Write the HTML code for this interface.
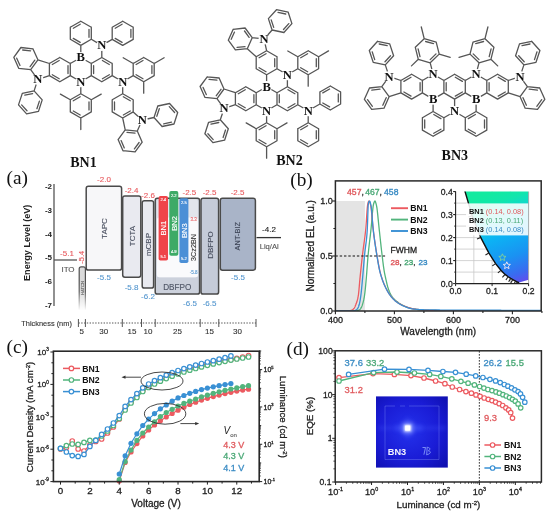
<!DOCTYPE html>
<html><head><meta charset="utf-8"><title>BN emitters</title><style>
*{margin:0;padding:0}
html,body{width:550px;height:517px;overflow:hidden;background:#fff}
svg{display:block}
.at{font-family:"Liberation Serif",serif;font-size:12.6px;font-weight:bold;fill:#111;text-anchor:middle}
.ml{font-family:"Liberation Serif",serif;font-size:14px;font-weight:bold;fill:#111}
.pl{font-family:"Liberation Serif",serif;font-size:17.5px;fill:#111}
.s{font-family:"Liberation Sans",sans-serif}
</style></head>
<body><svg width="550" height="517" viewBox="0 0 550 517">
<g stroke="#565656" stroke-width="1.3" stroke-linecap="round" fill="none">
<path d="M85.1 60.0L91.3 63.5M91.3 75.6L85.1 79.2M76.5 79.2L70.3 75.6M70.3 75.6L70.3 63.5M70.3 63.5L76.5 60.0M59.8 57.5L70.3 63.5M70.3 75.6L59.8 81.7M59.8 81.7L49.4 75.6M49.4 75.6L49.4 63.5M49.4 63.5L59.8 57.5M101.8 57.5L112.2 63.5M112.2 63.5L112.2 75.6M112.2 75.6L101.8 81.7M101.8 81.7L91.3 75.6M91.3 75.6L91.3 63.5M91.3 63.5L101.8 57.5M91.3 39.3L97.4 42.9M101.8 50.4L101.8 57.5M80.8 52.5L80.8 45.4M80.8 45.4L91.3 39.3M112.2 75.6L118.4 79.2M80.8 21.2L91.3 27.2M91.3 27.2L91.3 39.3M80.8 45.4L70.3 39.3M70.3 39.3L70.3 27.2M70.3 27.2L80.8 21.2M106.1 42.9L112.2 39.4M112.2 39.4L112.2 27.3M112.2 27.3L122.7 21.2M122.7 21.2L133.2 27.2M133.2 27.2L133.2 39.4M133.2 39.4L122.7 45.4M122.7 45.4L112.2 39.4M80.8 86.7L80.8 93.8M80.8 93.8L91.3 99.8M91.3 99.8L91.3 111.9M91.3 111.9L80.8 118.0M80.8 118.0L70.3 111.9M70.3 111.9L70.3 99.8M70.3 99.8L80.8 93.8M91.3 99.8L101.2 94.1M70.3 99.8L60.4 94.1M80.8 118.0L80.8 129.5M49.4 63.5L37.9 59.8M37.9 59.8L30.7 69.6M30.7 69.6L34.9 75.3M42.6 77.8L49.4 75.6M30.7 69.6L18.7 68.3M18.7 68.3L13.8 57.3M13.8 57.3L20.9 47.5M20.9 47.5L32.9 48.8M32.9 48.8L37.9 59.8M36.3 84.1L34.1 90.9M34.1 90.9L42.2 99.9M42.2 99.9L38.5 111.4M38.5 111.4L26.6 113.9M26.6 113.9L18.5 104.9M18.5 104.9L22.3 93.4M22.3 93.4L34.1 90.9M127.0 79.2L133.2 75.6M133.2 75.6L133.2 63.5M133.2 63.5L143.7 57.5M143.7 57.5L154.2 63.5M154.2 63.5L154.2 75.6M154.2 75.6L143.7 81.7M143.7 81.7L133.2 75.6M133.2 63.5L123.2 57.8M143.7 81.7L143.7 93.2M154.2 63.5L164.1 57.8M122.7 86.7L122.7 93.8M122.7 93.8L133.2 99.8M133.2 99.8L133.2 111.9M133.2 111.9L122.7 118.0M122.7 118.0L112.2 111.9M112.2 111.9L112.2 99.8M112.2 99.8L122.7 93.8M122.7 118.0L125.2 129.8M125.2 129.8L137.3 131.1M137.3 131.1L140.2 124.6M138.5 116.7L133.2 111.9M137.3 131.1L142.2 142.2M142.2 142.2L135.1 151.9M135.1 151.9L123.0 150.7M123.0 150.7L118.1 139.6M118.1 139.6L125.2 129.8M147.1 119.0L154.0 117.5M154.0 117.5L157.8 106.0M157.8 106.0L169.6 103.5M169.6 103.5L177.7 112.5M177.7 112.5L174.0 124.0M174.0 124.0L162.1 126.5M162.1 126.5L154.0 117.5"/>
<path d="M68.0 65.6L68.0 73.6M59.2 78.7L52.3 74.7M52.3 64.5L59.2 60.5M102.4 60.5L109.3 64.5M109.3 74.7L102.4 78.7M93.6 73.6L93.6 65.6M89.0 29.3L89.0 37.3M80.2 42.4L73.3 38.4M73.3 28.2L80.2 24.2M115.2 28.2L122.1 24.2M130.9 29.3L130.9 37.3M122.1 42.4L115.2 38.4M89.0 101.9L89.0 109.9M80.2 115.0L73.3 111.0M73.3 100.8L80.2 96.8M34.8 60.1L30.1 66.6M20.0 65.5L16.7 58.2M22.7 50.0L30.6 50.8M39.4 101.1L36.9 108.7M27.0 110.8L21.6 104.9M24.8 95.2L32.6 93.6M136.1 64.5L143.0 60.5M151.9 65.6L151.9 73.6M143.0 78.7L136.1 74.7M123.3 96.8L130.3 100.8M130.3 111.0L123.3 115.0M114.5 109.9L114.5 101.9M127.0 132.3L135.0 133.2M139.1 142.5L134.4 148.9M124.3 147.9L121.1 140.6M156.8 116.3L159.3 108.7M169.3 106.6L174.6 112.5M171.5 122.2L163.7 123.8"/>
</g>
<circle cx="80.8" cy="57.5" r="5.6" fill="#fff"/>
<text x="80.8" y="61.3" class="at">B</text>
<circle cx="80.8" cy="81.7" r="5.6" fill="#fff"/>
<text x="80.8" y="85.5" class="at">N</text>
<circle cx="101.8" cy="45.4" r="5.6" fill="#fff"/>
<text x="101.8" y="49.2" class="at">N</text>
<circle cx="122.7" cy="81.7" r="5.6" fill="#fff"/>
<text x="122.7" y="85.5" class="at">N</text>
<circle cx="37.9" cy="79.4" r="5.6" fill="#fff"/>
<text x="37.9" y="83.2" class="at">N</text>
<circle cx="142.2" cy="120.0" r="5.6" fill="#fff"/>
<text x="142.2" y="123.8" class="at">N</text>
<g stroke="#565656" stroke-width="1.3" stroke-linecap="round" fill="none">
<path d="M270.9 89.2L277.0 92.7M277.0 104.7L270.9 108.2M262.3 108.2L256.2 104.7M256.2 104.7L256.2 92.7M256.2 92.7L262.3 89.2M245.8 86.7L256.2 92.7M256.2 104.7L245.8 110.7M245.8 110.7L235.4 104.7M235.4 104.7L235.4 92.7M235.4 92.7L245.8 86.7M287.4 86.7L297.8 92.7M297.8 92.7L297.8 104.7M297.8 104.7L287.4 110.7M287.4 110.7L277.0 104.7M277.0 104.7L277.0 92.7M277.0 92.7L287.4 86.7M277.0 68.7L283.1 72.2M287.4 79.7L287.4 86.7M266.6 81.7L266.6 74.7M266.6 74.7L277.0 68.7M297.8 104.7L303.8 108.2M266.6 50.7L277.0 56.7M277.0 56.7L277.0 68.7M266.6 74.7L256.2 68.7M256.2 68.7L256.2 56.7M256.2 56.7L266.6 50.7M256.2 56.7L247.3 48.7M247.3 48.7L252.2 37.7M252.2 37.7L259.1 38.4M265.1 43.9L266.6 50.7M252.2 37.7L245.1 28.0M245.1 28.0L233.2 29.3M233.2 29.3L228.3 40.2M228.3 40.2L235.4 49.9M235.4 49.9L247.3 48.7M267.5 35.2L272.1 30.0M272.1 30.0L268.4 18.6M268.4 18.6L276.5 9.7M276.5 9.7L288.2 12.2M288.2 12.2L291.9 23.6M291.9 23.6L283.9 32.5M283.9 32.5L272.1 30.0M291.7 72.2L297.8 68.7M297.8 68.7L297.8 56.7M297.8 56.7L308.2 50.7M308.2 50.7L318.6 56.7M318.6 56.7L318.6 68.7M318.6 68.7L308.2 74.7M308.2 74.7L297.8 68.7M297.8 56.7L287.8 51.0M308.2 74.7L308.2 86.2M318.6 56.7L328.5 50.9M266.6 115.7L266.6 122.7M266.6 122.7L277.0 128.7M277.0 128.7L277.0 140.7M277.0 140.7L266.6 146.7M266.6 146.7L256.2 140.7M256.2 140.7L256.2 128.7M256.2 128.7L266.6 122.7M277.0 128.7L287.0 122.9M256.2 128.7L246.2 122.9M266.6 146.7L266.6 158.2M235.4 92.7L224.0 89.0M224.0 89.0L217.0 98.7M217.0 98.7L221.1 104.4M228.8 106.9L235.4 104.7M217.0 98.7L205.0 97.4M205.0 97.4L200.1 86.5M200.1 86.5L207.2 76.8M207.2 76.8L219.1 78.0M219.1 78.0L224.0 89.0M222.5 113.2L220.3 119.8M220.3 119.8L228.3 128.7M228.3 128.7L224.6 140.2M224.6 140.2L212.9 142.6M212.9 142.6L204.9 133.7M204.9 133.7L208.6 122.3M208.6 122.3L220.3 119.8M312.5 108.2L319.9 104.0M319.9 104.0L319.9 92.0M319.9 92.0L330.3 86.0M330.3 86.0L340.6 92.0M340.6 92.0L340.6 104.0M340.6 104.0L330.3 110.0M330.3 110.0L319.9 104.0M308.2 115.7L308.2 122.7M308.2 122.7L318.6 128.7M318.6 128.7L318.6 140.7M318.6 140.7L308.2 146.7M308.2 146.7L297.8 140.7M297.8 140.7L297.8 128.7M297.8 128.7L308.2 122.7"/>
<path d="M253.9 94.7L253.9 102.7M245.2 107.7L238.3 103.7M238.3 93.7L245.2 89.7M288.0 89.7L294.9 93.7M294.9 103.7L288.0 107.7M279.3 102.7L279.3 94.7M274.7 58.7L274.7 66.7M266.0 71.7L259.1 67.7M259.1 57.7L266.0 53.7M249.1 37.4L244.5 31.0M234.5 32.1L231.2 39.3M237.1 47.4L245.0 46.6M273.7 27.4L271.2 19.9M278.0 12.4L285.7 14.0M288.8 23.6L283.5 29.5M300.7 57.7L307.6 53.7M316.3 58.7L316.3 66.7M307.6 71.7L300.7 67.7M274.7 130.7L274.7 138.7M266.0 143.7L259.1 139.7M259.1 129.7L266.0 125.7M221.0 89.3L216.3 95.7M206.3 94.6L203.1 87.4M209.0 79.3L216.9 80.1M225.5 130.0L223.1 137.5M213.2 139.6L207.9 133.7M211.0 124.1L218.8 122.5M322.8 92.9L329.6 89.0M338.3 94.0L338.3 101.9M329.6 106.9L322.8 103.0M316.3 130.7L316.3 138.7M307.6 143.7L300.7 139.7M300.7 129.7L307.6 125.7"/>
</g>
<circle cx="266.6" cy="86.7" r="5.6" fill="#fff"/>
<text x="266.6" y="90.5" class="at">B</text>
<circle cx="266.6" cy="110.7" r="5.6" fill="#fff"/>
<text x="266.6" y="114.5" class="at">N</text>
<circle cx="287.4" cy="74.7" r="5.6" fill="#fff"/>
<text x="287.4" y="78.5" class="at">N</text>
<circle cx="308.2" cy="110.7" r="5.6" fill="#fff"/>
<text x="308.2" y="114.5" class="at">N</text>
<circle cx="224.0" cy="108.4" r="5.6" fill="#fff"/>
<text x="224.0" y="112.2" class="at">N</text>
<circle cx="264.1" cy="39.0" r="5.6" fill="#fff"/>
<text x="264.1" y="42.8" class="at">N</text>
<g stroke="#565656" stroke-width="1.3" stroke-linecap="round" fill="none">
<path d="M454.6 74.3L465.3 80.5M465.3 80.5L465.3 92.9M465.3 92.9L454.6 99.1M454.6 99.1L443.9 92.9M443.9 92.9L443.9 80.5M443.9 80.5L454.6 74.3M437.5 76.8L443.9 80.5M471.7 76.8L465.3 80.5M443.9 92.9L437.5 96.6M465.3 92.9L471.7 96.6M428.8 96.6L422.4 92.9M480.4 96.6L486.8 92.9M422.4 80.5L428.8 76.8M486.8 80.5L480.4 76.8M411.6 74.3L422.4 80.5M497.6 74.3L486.8 80.5M422.4 80.5L422.4 92.9M486.8 80.5L486.8 92.9M422.4 92.9L411.6 99.1M486.8 92.9L497.6 99.1M411.6 99.1L400.9 92.9M497.6 99.1L508.3 92.9M400.9 92.9L400.9 80.5M508.3 92.9L508.3 80.5M400.9 80.5L411.6 74.3M508.3 80.5L497.6 74.3M454.6 99.1L454.6 106.5M454.6 99.1L454.6 106.5M450.3 114.0L443.9 117.7M458.9 114.0L465.3 117.7M433.1 111.5L433.1 104.1M476.1 111.5L476.1 104.1M433.1 111.5L443.9 117.7M476.1 111.5L465.3 117.7M443.9 117.7L443.9 130.1M465.3 117.7L465.3 130.1M443.9 130.1L433.1 136.3M465.3 130.1L476.1 136.3M433.1 136.3L422.4 130.1M476.1 136.3L486.8 130.1M422.4 130.1L422.4 117.7M486.8 130.1L486.8 117.7M422.4 117.7L433.1 111.5M486.8 117.7L476.1 111.5M400.9 80.5L393.9 78.2M508.3 80.5L515.3 78.2M386.2 80.7L381.8 86.7M523.0 80.7L527.4 86.7M381.8 86.7L389.1 96.7M527.4 86.7L520.1 96.7M389.1 96.7L400.9 92.9M520.1 96.7L508.3 92.9M389.1 96.7L384.1 108.1M520.1 96.7L525.1 108.1M384.1 108.1L371.7 109.4M525.1 108.1L537.5 109.4M371.7 109.4L364.4 99.3M537.5 109.4L544.8 99.3M364.4 99.3L369.5 88.0M544.8 99.3L539.7 88.0M369.5 88.0L381.8 86.7M539.7 88.0L527.4 86.7M387.6 71.9L385.3 64.9M521.6 71.9L523.9 64.9M385.3 64.9L373.2 62.3M523.9 64.9L536.0 62.3M373.2 62.3L369.3 50.5M536.0 62.3L539.9 50.5M369.3 50.5L377.6 41.3M539.9 50.5L531.6 41.3M377.6 41.3L389.7 43.9M531.6 41.3L519.5 43.9M389.7 43.9L393.6 55.7M519.5 43.9L515.6 55.7M393.6 55.7L385.3 64.9M515.6 55.7L523.9 64.9M431.9 69.4L430.2 62.8M477.3 69.4L479.0 62.8M430.2 62.8L418.3 59.3M479.0 62.8L490.9 59.3M418.3 59.3L415.3 47.3M490.9 59.3L493.9 47.3M415.3 47.3L424.2 38.7M493.9 47.3L485.0 38.7M424.2 38.7L436.2 42.1M485.0 38.7L473.0 42.1M436.2 42.1L439.2 54.1M473.0 42.1L470.0 54.1M439.2 54.1L430.2 62.8M470.0 54.1L479.0 62.8M418.3 59.3L411.5 65.9M490.9 59.3L497.7 65.9M439.2 54.1L450.2 57.3M470.0 54.1L459.0 57.3M424.2 38.7L421.3 27.0M485.0 38.7L487.9 27.0"/>
<path d="M455.3 77.3L462.4 81.4M462.4 92.0L455.3 96.1M446.2 90.8L446.2 82.6M420.1 82.6L420.1 90.8M489.1 82.6L489.1 90.8M411.0 96.1L403.9 92.0M498.2 96.1L505.3 92.0M403.9 81.4L411.0 77.3M505.3 81.4L498.2 77.3M433.8 114.5L440.9 118.6M475.4 114.5L468.3 118.6M440.9 129.2L433.8 133.3M468.3 129.2L475.4 133.3M424.7 128.0L424.7 119.8M484.5 128.0L484.5 119.8M386.2 97.7L382.8 105.2M523.0 97.7L526.4 105.2M372.4 106.3L367.5 99.7M536.8 106.3L541.7 99.7M371.8 90.1L380.0 89.2M537.4 90.1L529.2 89.2M374.7 59.6L372.2 51.8M534.5 59.6L537.0 51.8M379.2 44.0L387.2 45.7M530.0 44.0L522.0 45.7M390.5 55.7L385.0 61.8M518.7 55.7L524.2 61.8M420.0 56.7L418.1 48.8M489.2 56.7L491.1 48.8M425.6 41.5L433.5 43.7M483.6 41.5L475.7 43.7M436.0 53.9L430.2 59.6M473.2 53.9L479.0 59.6"/>
</g>
<circle cx="433.1" cy="74.3" r="5.6" fill="#fff"/>
<text x="433.1" y="78.1" class="at">N</text>
<circle cx="476.1" cy="74.3" r="5.6" fill="#fff"/>
<text x="476.1" y="78.1" class="at">N</text>
<circle cx="433.1" cy="99.1" r="5.6" fill="#fff"/>
<text x="433.1" y="102.9" class="at">B</text>
<circle cx="476.1" cy="99.1" r="5.6" fill="#fff"/>
<text x="476.1" y="102.9" class="at">B</text>
<circle cx="389.1" cy="76.7" r="5.6" fill="#fff"/>
<text x="389.1" y="80.5" class="at">N</text>
<circle cx="520.1" cy="76.7" r="5.6" fill="#fff"/>
<text x="520.1" y="80.5" class="at">N</text>
<circle cx="454.6" cy="111.5" r="5.6" fill="#fff"/>
<text x="454.6" y="115.3" class="at">N</text>
<text class="ml" x="70.2" y="166.9">BN1</text>
<text class="ml" x="276.2" y="164.5">BN2</text>
<text class="ml" x="441.6" y="159.5">BN3</text>
<text x="6.50" y="184.20" font-size="19.3" fill="#111" text-anchor="start" font-family='"Liberation Serif","Times New Roman",serif'>(a)</text>
<line x1="54.00" y1="184.00" x2="54.00" y2="306.00" stroke="#555" stroke-width="1.3"/>
<text x="48.50" y="189.38" font-size="8" fill="#222" text-anchor="middle" font-family='"Liberation Sans",Arial,sans-serif' font-weight="bold">-2</text>
<text x="48.50" y="213.03" font-size="8" fill="#222" text-anchor="middle" font-family='"Liberation Sans",Arial,sans-serif' font-weight="bold">-3</text>
<text x="48.50" y="236.68" font-size="8" fill="#222" text-anchor="middle" font-family='"Liberation Sans",Arial,sans-serif' font-weight="bold">-4</text>
<text x="48.50" y="260.33" font-size="8" fill="#222" text-anchor="middle" font-family='"Liberation Sans",Arial,sans-serif' font-weight="bold">-5</text>
<text x="48.50" y="283.98" font-size="8" fill="#222" text-anchor="middle" font-family='"Liberation Sans",Arial,sans-serif' font-weight="bold">-6</text>
<text x="48.50" y="307.63" font-size="8" fill="#222" text-anchor="middle" font-family='"Liberation Sans",Arial,sans-serif' font-weight="bold">-7</text>
<text x="29.98" y="242.80" font-size="9.1" fill="#222" text-anchor="middle" font-family='"Liberation Sans",Arial,sans-serif' font-weight="bold" transform="rotate(-90 29.98 242.80)">Energy Level (eV)</text>
<line x1="54.00" y1="260.00" x2="77.00" y2="260.00" stroke="#555" stroke-width="1.3"/>
<text x="67.00" y="256.08" font-size="8" fill="#e85a5e" text-anchor="middle" font-family='"Liberation Sans",Arial,sans-serif' stroke="#e85a5e" stroke-width="0.12">-5.1</text>
<text x="68.00" y="271.68" font-size="8" fill="#555" text-anchor="middle" font-family='"Liberation Sans",Arial,sans-serif' stroke="#555" stroke-width="0.12">ITO</text>
<defs><linearGradient id="hfade" x1="0" y1="0" x2="0" y2="1"><stop offset="0" stop-color="#fff" stop-opacity="0"/><stop offset="0.35" stop-color="#fff" stop-opacity="0.1"/><stop offset="0.92" stop-color="#fff" stop-opacity="1"/><stop offset="1" stop-color="#fff" stop-opacity="1"/></linearGradient></defs>
<path d="M79.2 312V268.8Q79.2 266.8 81.2 266.8H83.4Q85.4 266.8 85.4 268.8V312" fill="#dadada" stroke="#505050" stroke-width="1.2"/>
<rect x="77.5" y="280" width="10" height="33" fill="url(#hfade)"/>
<text x="83.81" y="288.00" font-size="4.2" fill="#666" text-anchor="middle" font-family='"Liberation Sans",Arial,sans-serif' transform="rotate(-90 83.81 288.00)" stroke="#666" stroke-width="0.12">HATCN</text>
<text x="84.50" y="257.30" font-size="7.5" fill="#e85a5e" text-anchor="middle" font-family='"Liberation Sans",Arial,sans-serif' transform="rotate(-90 84.50 257.30)" stroke="#e85a5e" stroke-width="0.12">-5.4</text>
<rect x="86.20" y="186.30" width="35.40" height="83.82" rx="2.2" fill="#f7f7f9" stroke="#4a4a4a" stroke-width="1.5"/>
<text x="106.88" y="228.50" font-size="8" fill="#4a5060" text-anchor="middle" font-family='"Liberation Sans",Arial,sans-serif' transform="rotate(-90 106.88 228.50)" stroke="#4a5060" stroke-width="0.12">TAPC</text>
<text x="104.00" y="182.28" font-size="8" fill="#e85a5e" text-anchor="middle" font-family='"Liberation Sans",Arial,sans-serif' stroke="#e85a5e" stroke-width="0.12">-2.0</text>
<text x="104.00" y="279.88" font-size="8" fill="#5597cf" text-anchor="middle" font-family='"Liberation Sans",Arial,sans-serif' stroke="#5597cf" stroke-width="0.12">-5.5</text>
<rect x="122.70" y="195.88" width="18.10" height="81.43" rx="2.2" fill="#e9eaf0" stroke="#4a4a4a" stroke-width="1.5"/>
<text x="134.58" y="236.00" font-size="8" fill="#4a5060" text-anchor="middle" font-family='"Liberation Sans",Arial,sans-serif' transform="rotate(-90 134.58 236.00)" stroke="#4a5060" stroke-width="0.12">TCTA</text>
<text x="131.60" y="192.68" font-size="8" fill="#e85a5e" text-anchor="middle" font-family='"Liberation Sans",Arial,sans-serif' stroke="#e85a5e" stroke-width="0.12">-2.4</text>
<text x="131.60" y="289.88" font-size="8" fill="#5597cf" text-anchor="middle" font-family='"Liberation Sans",Arial,sans-serif' stroke="#5597cf" stroke-width="0.12">-5.8</text>
<rect x="142.20" y="200.67" width="11.40" height="87.42" rx="2.2" fill="#e9eaf0" stroke="#4a4a4a" stroke-width="1.5"/>
<text x="150.88" y="244.50" font-size="8" fill="#4a5060" text-anchor="middle" font-family='"Liberation Sans",Arial,sans-serif' transform="rotate(-90 150.88 244.50)" stroke="#4a5060" stroke-width="0.12">mCBP</text>
<text x="148.00" y="198.08" font-size="8" fill="#e85a5e" text-anchor="middle" font-family='"Liberation Sans",Arial,sans-serif' stroke="#e85a5e" stroke-width="0.12">-2.6</text>
<text x="148.00" y="298.88" font-size="8" fill="#5597cf" text-anchor="middle" font-family='"Liberation Sans",Arial,sans-serif' stroke="#5597cf" stroke-width="0.12">-6.2</text>
<rect x="155.20" y="198.28" width="44.40" height="95.80" rx="2.2" fill="#ccd1dc" stroke="#4a4a4a" stroke-width="1.5"/>
<rect x="156.9" y="199.28" width="41.1" height="78.03" rx="2.5" fill="#e2e5ec"/>
<rect x="156.9" y="217.44" width="41.1" height="59.88" rx="2.5" fill="#fafafc"/>
<text x="177.30" y="290.25" font-size="8.2" fill="#4f5666" text-anchor="middle" font-family='"Liberation Sans",Arial,sans-serif' stroke="#4f5666" stroke-width="0.12">DBFPO</text>
<rect x="158.60" y="195.88" width="9.40" height="64.67" rx="1.8" fill="#ef4449"/><text x="166.04" y="228.21" font-size="7.6" fill="#fff" text-anchor="middle" font-family='"Liberation Sans",Arial,sans-serif' transform="rotate(-90 166.04 228.21)" stroke="#fff" stroke-width="0.12">BN1</text><text x="163.30" y="201.39" font-size="4.2" fill="#fff" text-anchor="middle" font-family='"Liberation Sans",Arial,sans-serif' stroke="#fff" stroke-width="0.12">2.4</text><text x="163.30" y="258.06" font-size="4.2" fill="#fff" text-anchor="middle" font-family='"Liberation Sans",Arial,sans-serif' stroke="#fff" stroke-width="0.12">5.1</text>
<rect x="169.30" y="191.09" width="9.00" height="64.67" rx="1.8" fill="#3daa66"/><text x="176.54" y="223.42" font-size="7.6" fill="#fff" text-anchor="middle" font-family='"Liberation Sans",Arial,sans-serif' transform="rotate(-90 176.54 223.42)" stroke="#fff" stroke-width="0.12">BN2</text><text x="173.80" y="196.60" font-size="4.2" fill="#fff" text-anchor="middle" font-family='"Liberation Sans",Arial,sans-serif' stroke="#fff" stroke-width="0.12">2.2</text><text x="173.80" y="253.27" font-size="4.2" fill="#fff" text-anchor="middle" font-family='"Liberation Sans",Arial,sans-serif' stroke="#fff" stroke-width="0.12">4.9</text>
<rect x="179.40" y="198.28" width="9.00" height="64.66" rx="1.8" fill="#4b8fd6"/><text x="186.64" y="230.61" font-size="7.6" fill="#fff" text-anchor="middle" font-family='"Liberation Sans",Arial,sans-serif' transform="rotate(-90 186.64 230.61)" stroke="#fff" stroke-width="0.12">BN3</text><text x="183.90" y="203.79" font-size="4.2" fill="#fff" text-anchor="middle" font-family='"Liberation Sans",Arial,sans-serif' stroke="#fff" stroke-width="0.12">2.5</text><text x="183.90" y="260.45" font-size="4.2" fill="#fff" text-anchor="middle" font-family='"Liberation Sans",Arial,sans-serif' stroke="#fff" stroke-width="0.12">5.2</text>
<text x="193.60" y="221.42" font-size="4.5" fill="#e85a5e" text-anchor="middle" font-family='"Liberation Sans",Arial,sans-serif' stroke="#e85a5e" stroke-width="0.12">3.3</text>
<text x="193.60" y="273.62" font-size="4.5" fill="#5597cf" text-anchor="middle" font-family='"Liberation Sans",Arial,sans-serif' stroke="#5597cf" stroke-width="0.12">-5.8</text>
<text x="196.39" y="247.50" font-size="7.2" fill="#333" text-anchor="middle" font-family='"Liberation Sans",Arial,sans-serif' transform="rotate(-90 196.39 247.50)" stroke="#333" stroke-width="0.12">3Cz2BN</text>
<rect x="201.00" y="198.28" width="17.60" height="95.80" rx="2.2" fill="#c5cbd8" stroke="#4a4a4a" stroke-width="1.5"/>
<text x="212.88" y="245.00" font-size="8" fill="#4a5060" text-anchor="middle" font-family='"Liberation Sans",Arial,sans-serif' transform="rotate(-90 212.88 245.00)" stroke="#4a5060" stroke-width="0.12">DBFPO</text>
<rect x="220.30" y="198.28" width="35.10" height="71.85" rx="2.2" fill="#a9b4c8" stroke="#4a4a4a" stroke-width="1.5"/>
<text x="240.46" y="236.20" font-size="7.4" fill="#3e4658" text-anchor="middle" font-family='"Liberation Sans",Arial,sans-serif' transform="rotate(-90 240.46 236.20)" stroke="#3e4658" stroke-width="0.12">ANT-BIZ</text>
<text x="189.40" y="194.88" font-size="8" fill="#e85a5e" text-anchor="middle" font-family='"Liberation Sans",Arial,sans-serif' stroke="#e85a5e" stroke-width="0.12">-2.5</text>
<text x="209.60" y="194.88" font-size="8" fill="#e85a5e" text-anchor="middle" font-family='"Liberation Sans",Arial,sans-serif' stroke="#e85a5e" stroke-width="0.12">-2.5</text>
<text x="237.60" y="194.88" font-size="8" fill="#e85a5e" text-anchor="middle" font-family='"Liberation Sans",Arial,sans-serif' stroke="#e85a5e" stroke-width="0.12">-2.5</text>
<text x="190.00" y="306.48" font-size="8" fill="#5597cf" text-anchor="middle" font-family='"Liberation Sans",Arial,sans-serif' stroke="#5597cf" stroke-width="0.12">-6.5</text>
<text x="209.60" y="306.48" font-size="8" fill="#5597cf" text-anchor="middle" font-family='"Liberation Sans",Arial,sans-serif' stroke="#5597cf" stroke-width="0.12">-6.5</text>
<text x="238.00" y="280.28" font-size="8" fill="#5597cf" text-anchor="middle" font-family='"Liberation Sans",Arial,sans-serif' stroke="#5597cf" stroke-width="0.12">-5.5</text>
<line x1="256.50" y1="237.60" x2="281.00" y2="237.60" stroke="#333" stroke-width="1.3"/>
<text x="269.00" y="232.48" font-size="8" fill="#222" text-anchor="middle" font-family='"Liberation Sans",Arial,sans-serif' stroke="#222" stroke-width="0.12">-4.2</text>
<text x="269.20" y="248.94" font-size="7.6" fill="#555" text-anchor="middle" font-family='"Liberation Sans",Arial,sans-serif' stroke="#555" stroke-width="0.12">Liq/Al</text>
<text x="46.60" y="326.26" font-size="7.4" fill="#333" text-anchor="middle" font-family='"Liberation Sans",Arial,sans-serif' stroke="#333" stroke-width="0.12">Thickness (nm)</text>
<line x1="78.40" y1="323.00" x2="256.00" y2="323.00" stroke="#555" stroke-width="1" stroke-dasharray="1.4,1.4"/>
<line x1="78.40" y1="319.00" x2="78.40" y2="327.00" stroke="#555" stroke-width="1"/>
<line x1="85.40" y1="319.00" x2="85.40" y2="327.00" stroke="#555" stroke-width="1"/>
<line x1="122.30" y1="319.00" x2="122.30" y2="327.00" stroke="#555" stroke-width="1"/>
<line x1="141.50" y1="319.00" x2="141.50" y2="327.00" stroke="#555" stroke-width="1"/>
<line x1="155.20" y1="319.00" x2="155.20" y2="327.00" stroke="#555" stroke-width="1"/>
<line x1="200.20" y1="319.00" x2="200.20" y2="327.00" stroke="#555" stroke-width="1"/>
<line x1="218.80" y1="319.00" x2="218.80" y2="327.00" stroke="#555" stroke-width="1"/>
<line x1="256.00" y1="319.00" x2="256.00" y2="327.00" stroke="#555" stroke-width="1"/>
<text x="81.80" y="333.78" font-size="8" fill="#333" text-anchor="middle" font-family='"Liberation Sans",Arial,sans-serif' stroke="#333" stroke-width="0.12">5</text>
<text x="103.70" y="333.78" font-size="8" fill="#333" text-anchor="middle" font-family='"Liberation Sans",Arial,sans-serif' stroke="#333" stroke-width="0.12">30</text>
<text x="132.00" y="333.78" font-size="8" fill="#333" text-anchor="middle" font-family='"Liberation Sans",Arial,sans-serif' stroke="#333" stroke-width="0.12">15</text>
<text x="148.00" y="333.78" font-size="8" fill="#333" text-anchor="middle" font-family='"Liberation Sans",Arial,sans-serif' stroke="#333" stroke-width="0.12">10</text>
<text x="177.50" y="333.78" font-size="8" fill="#333" text-anchor="middle" font-family='"Liberation Sans",Arial,sans-serif' stroke="#333" stroke-width="0.12">25</text>
<text x="209.50" y="333.78" font-size="8" fill="#333" text-anchor="middle" font-family='"Liberation Sans",Arial,sans-serif' stroke="#333" stroke-width="0.12">15</text>
<text x="237.50" y="333.78" font-size="8" fill="#333" text-anchor="middle" font-family='"Liberation Sans",Arial,sans-serif' stroke="#333" stroke-width="0.12">30</text><text x="290.30" y="186.00" font-size="19.3" fill="#111" text-anchor="start" font-family='"Liberation Serif","Times New Roman",serif'>(b)</text>
<rect x="335.40" y="201.00" width="29.50" height="110.00" fill="#e4e4e4"/>
<clipPath id="cpb"><rect x="335.4" y="180" width="206" height="131"/></clipPath>
<g clip-path="url(#cpb)">
<polyline points="335.40,310.97 335.69,310.98 335.99,310.98 336.28,310.98 336.58,310.98 336.88,310.98 337.17,310.98 337.46,310.98 337.76,310.98 338.05,310.98 338.35,310.98 338.64,310.98 338.94,310.98 339.23,310.98 339.53,310.98 339.82,310.98 340.12,310.98 340.41,310.98 340.71,310.98 341.00,310.98 341.30,310.98 341.59,310.98 341.89,310.98 342.19,310.98 342.48,310.98 342.77,310.98 343.07,310.98 343.36,310.98 343.66,310.98 343.95,310.97 344.25,310.97 344.54,310.97 344.84,310.97 345.13,310.97 345.43,310.97 345.72,310.97 346.02,310.97 346.31,310.97 346.61,310.97 346.90,310.97 347.20,310.97 347.50,310.97 347.79,310.96 348.08,310.96 348.38,310.96 348.67,310.96 348.97,310.96 349.26,310.96 349.56,310.96 349.85,310.95 350.15,310.95 350.44,310.95 350.74,310.95 351.03,310.94 351.33,310.94 351.62,310.94 351.92,310.94 352.21,310.93 352.51,310.93 352.80,310.93 353.10,310.92 353.39,310.92 353.69,310.91 353.98,310.91 354.28,310.90 354.57,310.90 354.87,310.89 355.16,310.88 355.46,310.87 355.75,310.86 356.05,310.84 356.34,310.81 356.64,310.78 356.94,310.74 357.23,310.69 357.52,310.63 357.82,310.55 358.11,310.46 358.41,310.35 358.70,310.21 359.00,310.06 359.29,309.88 359.59,309.68 359.88,309.45 360.18,309.17 360.47,308.83 360.77,308.43 361.06,307.96 361.36,307.41 361.65,306.78 361.95,306.06 362.25,305.25 362.54,304.37 362.83,303.41 363.13,302.36 363.42,301.20 363.72,299.91 364.01,298.47 364.31,296.82 364.60,294.91 364.90,292.66 365.19,290.05 365.49,287.12 365.78,283.95 366.08,280.64 366.38,277.29 366.67,273.66 366.96,269.80 367.26,265.81 367.55,261.85 367.85,258.11 368.14,254.83 368.44,251.85 368.73,249.02 369.03,246.33 369.32,243.75 369.62,241.25 369.91,238.79 370.21,236.32 370.50,233.80 370.80,231.15 371.09,228.29 371.39,225.12 371.68,221.74 371.98,218.25 372.27,214.79 372.57,211.52 372.86,208.59 373.16,206.20 373.45,204.53 373.75,203.47 374.04,202.51 374.34,201.73 374.63,201.20 374.93,201.00 375.22,201.30 375.52,201.95 375.81,202.86 376.11,203.96 376.40,205.16 376.70,206.56 377.00,208.46 377.29,210.76 377.58,213.37 377.88,216.19 378.17,219.13 378.47,222.10 378.76,225.04 379.06,227.88 379.35,230.57 379.65,233.24 379.94,235.96 380.24,238.71 380.53,241.45 380.83,244.16 381.12,246.84 381.42,249.46 381.71,252.01 382.01,254.49 382.30,256.90 382.60,259.34 382.89,261.77 383.19,264.13 383.48,266.37 383.78,268.46 384.07,270.36 384.37,272.07 384.66,273.62 384.96,275.06 385.25,276.42 385.55,277.74 385.84,279.06 386.14,280.38 386.43,281.70 386.73,282.99 387.02,284.22 387.32,285.39 387.61,286.47 387.91,287.46 388.20,288.37 388.50,289.24 388.79,290.07 389.09,290.85 389.38,291.59 389.68,292.29 389.97,292.95 390.27,293.58 390.56,294.16 390.86,294.71 391.15,295.23 391.45,295.71 391.75,296.16 392.04,296.59 392.33,296.99 392.63,297.38 392.92,297.74 393.22,298.09 393.51,298.42 393.81,298.73 394.10,299.04 394.40,299.33 394.69,299.61 394.99,299.89 395.28,300.15 395.58,300.41 395.88,300.66 396.17,300.91 396.46,301.15 396.76,301.39 397.05,301.62 397.35,301.85 397.64,302.08 397.94,302.31 398.23,302.53 398.53,302.75 398.82,302.96 399.12,303.17 399.41,303.37 399.71,303.56 400.00,303.75 400.30,303.94 400.59,304.12 400.89,304.30 401.18,304.47 401.48,304.64 401.77,304.80 402.07,304.96 402.37,305.12 402.66,305.27 402.95,305.42 403.25,305.57 403.54,305.71 403.84,305.85 404.13,305.99 404.43,306.12 404.72,306.25 405.02,306.38 405.31,306.51 405.61,306.63 405.90,306.75 406.20,306.87 406.50,306.98 406.79,307.10 407.08,307.21 407.38,307.32 407.67,307.42 407.97,307.53 408.26,307.63 408.56,307.72 408.85,307.82 409.15,307.91 409.44,308.00 409.74,308.09 410.03,308.17 410.33,308.25 410.62,308.33 410.92,308.40 411.21,308.47 411.51,308.54 411.80,308.61 412.10,308.68 412.39,308.74 412.69,308.80 412.98,308.86 413.28,308.91 413.57,308.96 413.87,309.02 414.16,309.07 414.46,309.12 414.75,309.16 415.05,309.21 415.34,309.26 415.64,309.30 415.93,309.35 416.23,309.39 416.52,309.43 416.82,309.47 417.11,309.51 417.41,309.55 417.70,309.59 418.00,309.63 418.29,309.66 418.59,309.70 418.88,309.73 419.18,309.76 419.47,309.79 419.77,309.82 420.06,309.85 420.36,309.88 420.65,309.91 420.95,309.94 421.25,309.96 421.54,309.99 421.83,310.01 422.13,310.03 422.42,310.05 422.72,310.08 423.01,310.10 423.31,310.12 423.60,310.13 423.90,310.15 424.19,310.17 424.49,310.19 424.78,310.20 425.08,310.22 425.38,310.23 425.67,310.25 425.96,310.26 426.26,310.27 426.55,310.29 426.85,310.30 427.14,310.31 427.44,310.32 427.73,310.33 428.03,310.34 428.32,310.35 428.62,310.36 428.91,310.37 429.21,310.38 429.50,310.38 429.80,310.39 430.98,310.42 432.16,310.45 433.34,310.48 434.52,310.50 435.70,310.52 436.88,310.54 438.06,310.56 439.24,310.58 440.42,310.60 441.60,310.61 442.78,310.63 443.96,310.64 445.14,310.65 446.32,310.67 447.50,310.68 448.68,310.69 449.86,310.70 451.04,310.71 452.22,310.71 453.40,310.72 454.58,310.73 455.76,310.74 456.94,310.75 458.12,310.75 459.30,310.76 460.48,310.77 461.66,310.77 462.84,310.78 464.02,310.78 465.20,310.79 466.38,310.79 467.56,310.80 468.74,310.80 469.92,310.81 471.10,310.81 472.28,310.82 473.46,310.82 474.64,310.83 475.82,310.83 477.00,310.84 478.18,310.84 479.36,310.84 480.54,310.85 481.72,310.85 482.90,310.85 484.08,310.86 485.26,310.86 486.44,310.86 487.62,310.87 488.80,310.87 489.98,310.87 491.16,310.88 492.34,310.88 493.52,310.88 494.70,310.89 495.88,310.89 497.06,310.89 498.24,310.89 499.42,310.89 500.60,310.90 501.78,310.90 502.96,310.90 504.14,310.90 505.32,310.91 506.50,310.91 507.68,310.91 508.86,310.91 510.04,310.91 511.22,310.91 512.40,310.92 513.58,310.92 514.76,310.92 515.94,310.92 517.12,310.92 518.30,310.92 519.48,310.92 520.66,310.93 521.84,310.93 523.02,310.93 524.20,310.93 525.38,310.93 526.56,310.93 527.74,310.93 528.92,310.93 530.10,310.93 531.28,310.93 532.46,310.94 533.64,310.94 534.82,310.94 536.00,310.94 537.18,310.94 538.36,310.94 539.54,310.94 540.72,310.94 541.90,310.94" fill="none" stroke="#52b47c" stroke-width="1.3" stroke-linejoin="round"/>
<polyline points="335.40,310.98 335.69,310.98 335.99,310.98 336.28,310.98 336.58,310.98 336.88,310.97 337.17,310.97 337.46,310.97 337.76,310.97 338.05,310.97 338.35,310.97 338.64,310.97 338.94,310.97 339.23,310.97 339.53,310.97 339.82,310.96 340.12,310.96 340.41,310.96 340.71,310.96 341.00,310.96 341.30,310.95 341.59,310.95 341.89,310.95 342.19,310.95 342.48,310.94 342.77,310.94 343.07,310.94 343.36,310.93 343.66,310.93 343.95,310.92 344.25,310.92 344.54,310.91 344.84,310.91 345.13,310.90 345.43,310.89 345.72,310.88 346.02,310.88 346.31,310.87 346.61,310.86 346.90,310.85 347.20,310.84 347.50,310.82 347.79,310.81 348.08,310.80 348.38,310.78 348.67,310.76 348.97,310.74 349.26,310.71 349.56,310.68 349.85,310.64 350.15,310.59 350.44,310.54 350.74,310.47 351.03,310.39 351.33,310.30 351.62,310.19 351.92,310.06 352.21,309.92 352.51,309.75 352.80,309.56 353.10,309.35 353.39,309.10 353.69,308.80 353.98,308.44 354.28,308.02 354.57,307.53 354.87,306.96 355.16,306.33 355.46,305.63 355.75,304.88 356.05,304.11 356.34,303.30 356.64,302.46 356.94,301.56 357.23,300.58 357.52,299.49 357.82,298.23 358.11,296.75 358.41,294.93 358.70,292.52 359.00,289.54 359.29,286.12 359.59,282.55 359.88,279.32 360.18,276.44 360.47,273.55 360.77,270.67 361.06,267.82 361.36,265.02 361.65,262.27 361.95,259.59 362.25,256.98 362.54,254.45 362.83,252.04 363.13,249.75 363.42,247.56 363.72,245.44 364.01,243.34 364.31,241.25 364.60,239.09 364.90,236.84 365.19,234.42 365.49,231.77 365.78,228.78 366.08,225.10 366.38,220.87 366.67,216.39 366.96,212.02 367.26,208.17 367.55,205.32 367.85,203.83 368.14,202.73 368.44,201.83 368.73,201.22 369.03,201.00 369.32,201.20 369.62,201.74 369.91,202.55 370.21,203.56 370.50,204.69 370.80,205.94 371.09,207.86 371.39,210.40 371.68,213.37 371.98,216.60 372.27,219.92 372.57,223.18 372.86,226.26 373.16,229.03 373.45,231.48 373.75,233.81 374.04,236.05 374.34,238.22 374.63,240.32 374.93,242.36 375.22,244.35 375.52,246.29 375.81,248.18 376.11,250.05 376.40,251.87 376.70,253.67 377.00,255.45 377.29,257.22 377.58,258.99 377.88,260.75 378.17,262.47 378.47,264.13 378.76,265.73 379.06,267.26 379.35,268.71 379.65,270.06 379.94,271.31 380.24,272.49 380.53,273.60 380.83,274.65 381.12,275.66 381.42,276.62 381.71,277.55 382.01,278.45 382.30,279.32 382.60,280.16 382.89,280.97 383.19,281.75 383.48,282.51 383.78,283.24 384.07,283.95 384.37,284.63 384.66,285.30 384.96,285.95 385.25,286.59 385.55,287.21 385.84,287.83 386.14,288.42 386.43,289.00 386.73,289.57 387.02,290.13 387.32,290.67 387.61,291.19 387.91,291.71 388.20,292.20 388.50,292.69 388.79,293.16 389.09,293.62 389.38,294.06 389.68,294.49 389.97,294.91 390.27,295.32 390.56,295.71 390.86,296.09 391.15,296.46 391.45,296.82 391.75,297.17 392.04,297.51 392.33,297.84 392.63,298.16 392.92,298.47 393.22,298.78 393.51,299.07 393.81,299.36 394.10,299.64 394.40,299.91 394.69,300.18 394.99,300.44 395.28,300.70 395.58,300.94 395.88,301.18 396.17,301.42 396.46,301.65 396.76,301.88 397.05,302.10 397.35,302.31 397.64,302.52 397.94,302.72 398.23,302.92 398.53,303.11 398.82,303.30 399.12,303.48 399.41,303.66 399.71,303.84 400.00,304.01 400.30,304.17 400.59,304.33 400.89,304.49 401.18,304.65 401.48,304.80 401.77,304.94 402.07,305.09 402.37,305.23 402.66,305.37 402.95,305.50 403.25,305.64 403.54,305.77 403.84,305.89 404.13,306.02 404.43,306.14 404.72,306.26 405.02,306.38 405.31,306.50 405.61,306.61 405.90,306.72 406.20,306.84 406.50,306.94 406.79,307.05 407.08,307.16 407.38,307.26 407.67,307.36 407.97,307.46 408.26,307.55 408.56,307.65 408.85,307.74 409.15,307.83 409.44,307.91 409.74,308.00 410.03,308.08 410.33,308.16 410.62,308.23 410.92,308.31 411.21,308.38 411.51,308.45 411.80,308.51 412.10,308.58 412.39,308.64 412.69,308.70 412.98,308.75 413.28,308.81 413.57,308.86 413.87,308.91 414.16,308.96 414.46,309.01 414.75,309.05 415.05,309.10 415.34,309.14 415.64,309.18 415.93,309.23 416.23,309.27 416.52,309.31 416.82,309.34 417.11,309.38 417.41,309.42 417.70,309.45 418.00,309.49 418.29,309.52 418.59,309.55 418.88,309.59 419.18,309.62 419.47,309.65 419.77,309.68 420.06,309.71 420.36,309.73 420.65,309.76 420.95,309.79 421.25,309.81 421.54,309.84 421.83,309.86 422.13,309.88 422.42,309.91 422.72,309.93 423.01,309.95 423.31,309.97 423.60,309.99 423.90,310.01 424.19,310.03 424.49,310.05 424.78,310.07 425.08,310.08 425.38,310.10 425.67,310.12 425.96,310.13 426.26,310.15 426.55,310.16 426.85,310.18 427.14,310.19 427.44,310.20 427.73,310.22 428.03,310.23 428.32,310.24 428.62,310.25 428.91,310.27 429.21,310.28 429.50,310.29 429.80,310.30 430.98,310.34 432.16,310.38 433.34,310.42 434.52,310.45 435.70,310.49 436.88,310.51 438.06,310.54 439.24,310.57 440.42,310.59 441.60,310.61 442.78,310.63 443.96,310.65 445.14,310.67 446.32,310.68 447.50,310.70 448.68,310.71 449.86,310.72 451.04,310.73 452.22,310.74 453.40,310.75 454.58,310.76 455.76,310.77 456.94,310.78 458.12,310.78 459.30,310.79 460.48,310.80 461.66,310.80 462.84,310.81 464.02,310.81 465.20,310.82 466.38,310.82 467.56,310.83 468.74,310.83 469.92,310.84 471.10,310.84 472.28,310.85 473.46,310.85 474.64,310.85 475.82,310.86 477.00,310.86 478.18,310.87 479.36,310.87 480.54,310.87 481.72,310.88 482.90,310.88 484.08,310.88 485.26,310.88 486.44,310.89 487.62,310.89 488.80,310.89 489.98,310.90 491.16,310.90 492.34,310.90 493.52,310.90 494.70,310.90 495.88,310.91 497.06,310.91 498.24,310.91 499.42,310.91 500.60,310.91 501.78,310.92 502.96,310.92 504.14,310.92 505.32,310.92 506.50,310.92 507.68,310.92 508.86,310.93 510.04,310.93 511.22,310.93 512.40,310.93 513.58,310.93 514.76,310.93 515.94,310.93 517.12,310.93 518.30,310.93 519.48,310.94 520.66,310.94 521.84,310.94 523.02,310.94 524.20,310.94 525.38,310.94 526.56,310.94 527.74,310.94 528.92,310.94 530.10,310.94 531.28,310.94 532.46,310.94 533.64,310.94 534.82,310.94 536.00,310.94 537.18,310.94 538.36,310.94 539.54,310.94 540.72,310.94 541.90,310.94" fill="none" stroke="#ec5a60" stroke-width="1.3" stroke-linejoin="round"/>
<polyline points="335.40,310.98 335.69,310.98 335.99,310.98 336.28,310.98 336.58,310.98 336.88,310.98 337.17,310.98 337.46,310.98 337.76,310.98 338.05,310.98 338.35,310.98 338.64,310.98 338.94,310.98 339.23,310.97 339.53,310.97 339.82,310.97 340.12,310.97 340.41,310.97 340.71,310.97 341.00,310.97 341.30,310.97 341.59,310.97 341.89,310.97 342.19,310.97 342.48,310.97 342.77,310.97 343.07,310.97 343.36,310.97 343.66,310.96 343.95,310.96 344.25,310.96 344.54,310.96 344.84,310.96 345.13,310.96 345.43,310.96 345.72,310.96 346.02,310.95 346.31,310.95 346.61,310.95 346.90,310.95 347.20,310.95 347.50,310.94 347.79,310.94 348.08,310.94 348.38,310.94 348.67,310.93 348.97,310.93 349.26,310.93 349.56,310.92 349.85,310.92 350.15,310.92 350.44,310.91 350.74,310.91 351.03,310.90 351.33,310.90 351.62,310.89 351.92,310.89 352.21,310.88 352.51,310.87 352.80,310.85 353.10,310.83 353.39,310.80 353.69,310.77 353.98,310.73 354.28,310.67 354.57,310.61 354.87,310.52 355.16,310.43 355.46,310.31 355.75,310.16 356.05,310.00 356.34,309.81 356.64,309.59 356.94,309.33 357.23,309.01 357.52,308.63 357.82,308.18 358.11,307.63 358.41,306.98 358.70,306.22 359.00,305.33 359.29,304.30 359.59,303.09 359.88,301.68 360.18,300.05 360.47,298.20 360.77,296.14 361.06,293.85 361.36,291.23 361.65,288.32 361.95,285.17 362.25,281.91 362.54,278.68 362.83,275.39 363.13,271.95 363.42,268.43 363.72,264.87 364.01,261.36 364.31,257.99 364.60,254.85 364.90,252.03 365.19,249.49 365.49,247.16 365.78,244.93 366.08,242.67 366.38,240.23 366.67,237.44 366.96,234.12 367.26,230.04 367.55,223.30 367.85,214.04 368.14,205.99 368.44,203.26 368.73,202.22 369.03,201.48 369.32,201.07 369.62,201.04 369.91,201.47 370.21,202.27 370.50,203.35 370.80,204.61 371.09,206.02 371.39,208.29 371.68,211.34 371.98,214.87 372.27,218.61 372.57,222.33 372.86,225.83 373.16,228.94 373.45,231.59 373.75,234.07 374.04,236.44 374.34,238.69 374.63,240.86 374.93,242.94 375.22,244.96 375.52,246.93 375.81,248.84 376.11,250.71 376.40,252.56 376.70,254.37 377.00,256.17 377.29,257.96 377.58,259.73 377.88,261.48 378.17,263.17 378.47,264.81 378.76,266.37 379.06,267.86 379.35,269.26 379.65,270.57 379.94,271.79 380.24,272.94 380.53,274.03 380.83,275.06 381.12,276.05 381.42,277.00 381.71,277.91 382.01,278.80 382.30,279.66 382.60,280.49 382.89,281.29 383.19,282.06 383.48,282.80 383.78,283.52 384.07,284.22 384.37,284.90 384.66,285.56 384.96,286.21 385.25,286.84 385.55,287.46 385.84,288.07 386.14,288.66 386.43,289.23 386.73,289.79 387.02,290.34 387.32,290.87 387.61,291.39 387.91,291.90 388.20,292.39 388.50,292.87 388.79,293.33 389.09,293.78 389.38,294.22 389.68,294.65 389.97,295.07 390.27,295.47 390.56,295.87 390.86,296.25 391.15,296.62 391.45,296.98 391.75,297.33 392.04,297.67 392.33,298.01 392.63,298.33 392.92,298.65 393.22,298.95 393.51,299.25 393.81,299.55 394.10,299.83 394.40,300.11 394.69,300.38 394.99,300.64 395.28,300.90 395.58,301.15 395.88,301.39 396.17,301.63 396.46,301.86 396.76,302.09 397.05,302.31 397.35,302.53 397.64,302.73 397.94,302.94 398.23,303.13 398.53,303.33 398.82,303.51 399.12,303.69 399.41,303.87 399.71,304.04 400.00,304.21 400.30,304.38 400.59,304.54 400.89,304.70 401.18,304.85 401.48,305.00 401.77,305.15 402.07,305.29 402.37,305.43 402.66,305.57 402.95,305.71 403.25,305.84 403.54,305.97 403.84,306.10 404.13,306.23 404.43,306.36 404.72,306.48 405.02,306.60 405.31,306.73 405.61,306.85 405.90,306.98 406.20,307.10 406.50,307.22 406.79,307.34 407.08,307.45 407.38,307.56 407.67,307.67 407.97,307.78 408.26,307.88 408.56,307.98 408.85,308.07 409.15,308.16 409.44,308.25 409.74,308.33 410.03,308.41 410.33,308.48 410.62,308.55 410.92,308.61 411.21,308.67 411.51,308.73 411.80,308.78 412.10,308.83 412.39,308.87 412.69,308.91 412.98,308.95 413.28,308.98 413.57,309.02 413.87,309.05 414.16,309.08 414.46,309.12 414.75,309.15 415.05,309.18 415.34,309.21 415.64,309.24 415.93,309.26 416.23,309.29 416.52,309.32 416.82,309.34 417.11,309.37 417.41,309.39 417.70,309.42 418.00,309.44 418.29,309.46 418.59,309.48 418.88,309.51 419.18,309.53 419.47,309.55 419.77,309.56 420.06,309.58 420.36,309.60 420.65,309.62 420.95,309.64 421.25,309.65 421.54,309.67 421.83,309.68 422.13,309.70 422.42,309.71 422.72,309.73 423.01,309.74 423.31,309.75 423.60,309.76 423.90,309.78 424.19,309.79 424.49,309.80 424.78,309.81 425.08,309.82 425.38,309.83 425.67,309.84 425.96,309.85 426.26,309.85 426.55,309.86 426.85,309.87 427.14,309.87 427.44,309.88 427.73,309.89 428.03,309.89 428.32,309.90 428.62,309.90 428.91,309.91 429.21,309.91 429.50,309.91 429.80,309.92 430.98,309.93 432.16,309.95 433.34,309.96 434.52,309.98 435.70,309.99 436.88,310.00 438.06,310.01 439.24,310.02 440.42,310.03 441.60,310.04 442.78,310.04 443.96,310.05 445.14,310.06 446.32,310.07 447.50,310.07 448.68,310.08 449.86,310.08 451.04,310.09 452.22,310.09 453.40,310.10 454.58,310.11 455.76,310.11 456.94,310.12 458.12,310.12 459.30,310.13 460.48,310.13 461.66,310.14 462.84,310.14 464.02,310.15 465.20,310.15 466.38,310.16 467.56,310.16 468.74,310.16 469.92,310.17 471.10,310.17 472.28,310.18 473.46,310.18 474.64,310.19 475.82,310.19 477.00,310.20 478.18,310.20 479.36,310.21 480.54,310.21 481.72,310.21 482.90,310.22 484.08,310.22 485.26,310.23 486.44,310.23 487.62,310.23 488.80,310.24 489.98,310.24 491.16,310.25 492.34,310.25 493.52,310.25 494.70,310.26 495.88,310.26 497.06,310.26 498.24,310.27 499.42,310.27 500.60,310.27 501.78,310.28 502.96,310.28 504.14,310.28 505.32,310.29 506.50,310.29 507.68,310.29 508.86,310.29 510.04,310.30 511.22,310.30 512.40,310.30 513.58,310.30 514.76,310.31 515.94,310.31 517.12,310.31 518.30,310.31 519.48,310.32 520.66,310.32 521.84,310.32 523.02,310.32 524.20,310.32 525.38,310.32 526.56,310.33 527.74,310.33 528.92,310.33 530.10,310.33 531.28,310.33 532.46,310.33 533.64,310.33 534.82,310.34 536.00,310.34 537.18,310.34 538.36,310.34 539.54,310.34 540.72,310.34 541.90,310.34" fill="none" stroke="#3990d4" stroke-width="1.3" stroke-linejoin="round"/>
</g>
<line x1="335.40" y1="256.00" x2="386.00" y2="256.00" stroke="#111" stroke-width="1.2" stroke-dasharray="2.4,1.9"/>
<rect x="335.4" y="180.9" width="205.8" height="130.1" fill="none" stroke="#2a2a2a" stroke-width="1.5"/>
<line x1="332.20" y1="311.00" x2="335.40" y2="311.00" stroke="#222" stroke-width="1.1"/>
<text x="326.50" y="314.24" font-size="9" fill="#222" text-anchor="middle" font-family='"Liberation Sans",Arial,sans-serif' stroke="#222" stroke-width="0.30">0.0</text>
<line x1="332.20" y1="256.00" x2="335.40" y2="256.00" stroke="#222" stroke-width="1.1"/>
<text x="326.50" y="259.24" font-size="9" fill="#222" text-anchor="middle" font-family='"Liberation Sans",Arial,sans-serif' stroke="#222" stroke-width="0.30">0.5</text>
<line x1="332.20" y1="201.00" x2="335.40" y2="201.00" stroke="#222" stroke-width="1.1"/>
<text x="326.50" y="204.24" font-size="9" fill="#222" text-anchor="middle" font-family='"Liberation Sans",Arial,sans-serif' stroke="#222" stroke-width="0.30">1.0</text>
<line x1="333.40" y1="283.50" x2="335.40" y2="283.50" stroke="#222" stroke-width="1"/>
<line x1="333.40" y1="228.50" x2="335.40" y2="228.50" stroke="#222" stroke-width="1"/>
<line x1="335.40" y1="311.00" x2="335.40" y2="314.20" stroke="#222" stroke-width="1.1"/>
<text x="335.40" y="323.04" font-size="9" fill="#222" text-anchor="middle" font-family='"Liberation Sans",Arial,sans-serif' stroke="#222" stroke-width="0.30">400</text>
<line x1="364.90" y1="311.00" x2="364.90" y2="313.00" stroke="#222" stroke-width="1.1"/>
<line x1="394.40" y1="311.00" x2="394.40" y2="314.20" stroke="#222" stroke-width="1.1"/>
<text x="394.40" y="323.04" font-size="9" fill="#222" text-anchor="middle" font-family='"Liberation Sans",Arial,sans-serif' stroke="#222" stroke-width="0.30">500</text>
<line x1="423.90" y1="311.00" x2="423.90" y2="313.00" stroke="#222" stroke-width="1.1"/>
<line x1="453.40" y1="311.00" x2="453.40" y2="314.20" stroke="#222" stroke-width="1.1"/>
<text x="453.40" y="323.04" font-size="9" fill="#222" text-anchor="middle" font-family='"Liberation Sans",Arial,sans-serif' stroke="#222" stroke-width="0.30">600</text>
<line x1="482.90" y1="311.00" x2="482.90" y2="313.00" stroke="#222" stroke-width="1.1"/>
<line x1="512.40" y1="311.00" x2="512.40" y2="314.20" stroke="#222" stroke-width="1.1"/>
<text x="512.40" y="323.04" font-size="9" fill="#222" text-anchor="middle" font-family='"Liberation Sans",Arial,sans-serif' stroke="#222" stroke-width="0.30">700</text>
<line x1="541.90" y1="311.00" x2="541.90" y2="313.00" stroke="#222" stroke-width="1.1"/>
<text x="438.20" y="334.80" font-size="10" fill="#222" text-anchor="middle" font-family='"Liberation Sans",Arial,sans-serif' stroke="#222" stroke-width="0.30">Wavelength (nm)</text>
<text x="314.40" y="245.80" font-size="10" fill="#222" text-anchor="middle" font-family='"Liberation Sans",Arial,sans-serif' transform="rotate(-90 314.40 245.80)" stroke="#222" stroke-width="0.30">Normalized EL (a.u.)</text>
<text x="347.10" y="194.9" font-size="8.6" font-family='"Liberation Sans",Arial,sans-serif' stroke-width="0.35"><tspan fill="#e05a5e" stroke="#e05a5e">457</tspan><tspan fill="#444" stroke="#444">,</tspan></text>
<text x="365.20" y="194.9" font-size="8.6" font-family='"Liberation Sans",Arial,sans-serif' stroke-width="0.35"><tspan fill="#4aa876" stroke="#4aa876">467</tspan><tspan fill="#444" stroke="#444">,</tspan></text>
<text x="384.10" y="194.9" font-size="8.6" font-family='"Liberation Sans",Arial,sans-serif' stroke-width="0.35"><tspan fill="#3b8cc4" stroke="#3b8cc4">458</tspan><tspan fill="#444" stroke="#444"></tspan></text>
<line x1="391.00" y1="208.20" x2="408.00" y2="208.20" stroke="#ec5a60" stroke-width="1.9"/>
<text x="410.20" y="211.40" font-size="8.7" fill="#111" text-anchor="start" font-family='"Liberation Sans",Arial,sans-serif' font-weight="bold">BN1</text>
<line x1="391.00" y1="219.60" x2="408.00" y2="219.60" stroke="#52b47c" stroke-width="1.9"/>
<text x="410.20" y="222.80" font-size="8.7" fill="#111" text-anchor="start" font-family='"Liberation Sans",Arial,sans-serif' font-weight="bold">BN2</text>
<line x1="391.00" y1="231.00" x2="408.00" y2="231.00" stroke="#3990d4" stroke-width="1.9"/>
<text x="410.20" y="234.20" font-size="8.7" fill="#111" text-anchor="start" font-family='"Liberation Sans",Arial,sans-serif' font-weight="bold">BN3</text>
<text x="390.60" y="253.30" font-size="8.5" fill="#222" text-anchor="start" font-family='"Liberation Sans",Arial,sans-serif' stroke="#222" stroke-width="0.28">FWHM</text>
<text x="390.40" y="264.7" font-size="8.1" font-family='"Liberation Sans",Arial,sans-serif' stroke-width="0.35"><tspan fill="#e05a5e" stroke="#e05a5e">28</tspan><tspan fill="#444" stroke="#444">,</tspan></text>
<text x="404.30" y="264.7" font-size="8.1" font-family='"Liberation Sans",Arial,sans-serif' stroke-width="0.35"><tspan fill="#4aa876" stroke="#4aa876">23</tspan><tspan fill="#444" stroke="#444">,</tspan></text>
<text x="418.40" y="264.7" font-size="8.1" font-family='"Liberation Sans",Arial,sans-serif' stroke-width="0.35"><tspan fill="#3b8cc4" stroke="#3b8cc4">23</tspan><tspan fill="#444" stroke="#444"></tspan></text>
<line x1="455.60" y1="272.10" x2="528.60" y2="272.10" stroke="#c8c8c8" stroke-width="0.8"/>
<line x1="455.60" y1="260.60" x2="528.60" y2="260.60" stroke="#c8c8c8" stroke-width="0.8"/>
<line x1="455.60" y1="249.10" x2="528.60" y2="249.10" stroke="#c8c8c8" stroke-width="0.8"/>
<line x1="455.60" y1="237.60" x2="528.60" y2="237.60" stroke="#c8c8c8" stroke-width="0.8"/>
<line x1="455.60" y1="226.10" x2="528.60" y2="226.10" stroke="#c8c8c8" stroke-width="0.8"/>
<line x1="455.60" y1="214.60" x2="528.60" y2="214.60" stroke="#c8c8c8" stroke-width="0.8"/>
<line x1="455.60" y1="203.10" x2="528.60" y2="203.10" stroke="#c8c8c8" stroke-width="0.8"/>
<line x1="473.85" y1="191.60" x2="473.85" y2="283.60" stroke="#c8c8c8" stroke-width="0.8"/>
<line x1="492.10" y1="191.60" x2="492.10" y2="283.60" stroke="#c8c8c8" stroke-width="0.8"/>
<line x1="510.35" y1="191.60" x2="510.35" y2="283.60" stroke="#c8c8c8" stroke-width="0.8"/>
<defs><linearGradient id="cie" gradientUnits="userSpaceOnUse" x1="488" y1="194" x2="524" y2="286"><stop offset="0" stop-color="#12eaa0"/><stop offset="0.12" stop-color="#12e6ac"/><stop offset="0.3" stop-color="#10d0e0"/><stop offset="0.45" stop-color="#0cb2f4"/><stop offset="0.68" stop-color="#1a92f2"/><stop offset="0.86" stop-color="#3a6af0"/><stop offset="1" stop-color="#7040ee"/></linearGradient><clipPath id="cpi"><rect x="455.6" y="191.6" width="73" height="92"/></clipPath></defs>
<g clip-path="url(#cpi)">
<path d="M528.60 279.68 L519.15 282.45 L518.85 282.50 L518.16 282.43 L517.25 282.01 L515.61 281.09 L512.76 279.53 L510.72 278.38 L508.16 276.77 L505.06 274.42 L500.90 270.31 L495.60 263.64 L488.92 253.08 L480.68 237.44 L472.17 215.75 L464.18 188.68 L458.59 159.77 L528.60 145.60 Z" fill="url(#cie)"/>
<path d="M519.15 282.45 L518.85 282.50 L518.16 282.43 L517.25 282.01 L515.61 281.09 L512.76 279.53 L510.72 278.38 L508.16 276.77 L505.06 274.42 L500.90 270.31 L495.60 263.64 L488.92 253.08 L480.68 237.44 L472.17 215.75 L464.18 188.68 L458.59 159.77" fill="none" stroke="#111" stroke-width="1.4"/>
<line x1="517.25" y1="282.01" x2="515.40" y2="285.56" stroke="#222" stroke-width="1.1"/>
<line x1="515.61" y1="281.09" x2="513.67" y2="284.59" stroke="#222" stroke-width="1.1"/>
<line x1="512.76" y1="279.53" x2="510.82" y2="283.03" stroke="#222" stroke-width="1.1"/>
<line x1="510.72" y1="278.38" x2="508.66" y2="281.81" stroke="#222" stroke-width="1.1"/>
<line x1="508.16" y1="276.77" x2="505.87" y2="280.05" stroke="#222" stroke-width="1.1"/>
<line x1="505.06" y1="274.42" x2="502.40" y2="277.41" stroke="#222" stroke-width="1.1"/>
<line x1="500.90" y1="270.31" x2="497.89" y2="272.94" stroke="#222" stroke-width="1.1"/>
<line x1="495.60" y1="263.64" x2="492.32" y2="265.92" stroke="#222" stroke-width="1.1"/>
<line x1="488.92" y1="253.08" x2="485.45" y2="255.06" stroke="#222" stroke-width="1.1"/>
<line x1="480.68" y1="237.44" x2="477.03" y2="239.08" stroke="#222" stroke-width="1.1"/>
<line x1="472.17" y1="215.75" x2="468.38" y2="217.03" stroke="#222" stroke-width="1.1"/>
</g>
<rect x="466" y="203.4" width="62.6" height="32" fill="#ffffff" fill-opacity="0.88"/>
<text x="469" y="214.10" font-size="7.4" font-family='"Liberation Sans",Arial,sans-serif'><tspan font-weight="bold" fill="#111">BN1</tspan><tspan fill="#e05a5e"> (0.14, 0.08)</tspan></text>
<text x="469" y="223.10" font-size="7.4" font-family='"Liberation Sans",Arial,sans-serif'><tspan font-weight="bold" fill="#111">BN2</tspan><tspan fill="#4aa876"> (0.13, 0.11)</tspan></text>
<text x="469" y="232.10" font-size="7.4" font-family='"Liberation Sans",Arial,sans-serif'><tspan font-weight="bold" fill="#111">BN3</tspan><tspan fill="#3b8cc4"> (0.14, 0.08)</tspan></text>
<polygon points="502.40,253.80 503.41,256.22 506.01,256.43 504.03,258.13 504.63,260.67 502.40,259.31 500.17,260.67 500.77,258.13 498.79,256.43 501.39,256.22" fill="none" stroke="#7fd09a" stroke-width="0.9"/>
<polygon points="506.80,261.80 507.81,264.22 510.41,264.43 508.43,266.13 509.03,268.67 506.80,267.31 504.57,268.67 505.17,266.13 503.19,264.43 505.79,264.22" fill="none" stroke="#f4e8f0" stroke-width="0.9"/>
<line x1="528.60" y1="191.60" x2="528.60" y2="283.60" stroke="#999" stroke-width="0.8"/>
<line x1="455.60" y1="191.60" x2="455.60" y2="283.60" stroke="#222" stroke-width="1.1"/>
<line x1="455.60" y1="283.60" x2="528.60" y2="283.60" stroke="#222" stroke-width="1.1"/>
<line x1="453.10" y1="283.60" x2="455.60" y2="283.60" stroke="#222" stroke-width="1"/>
<text x="446.80" y="286.70" font-size="8.6" fill="#222" text-anchor="middle" font-family='"Liberation Sans",Arial,sans-serif' stroke="#222" stroke-width="0.29">0.0</text>
<line x1="453.10" y1="260.60" x2="455.60" y2="260.60" stroke="#222" stroke-width="1"/>
<text x="446.80" y="263.70" font-size="8.6" fill="#222" text-anchor="middle" font-family='"Liberation Sans",Arial,sans-serif' stroke="#222" stroke-width="0.29">0.1</text>
<line x1="453.10" y1="237.60" x2="455.60" y2="237.60" stroke="#222" stroke-width="1"/>
<text x="446.80" y="240.70" font-size="8.6" fill="#222" text-anchor="middle" font-family='"Liberation Sans",Arial,sans-serif' stroke="#222" stroke-width="0.29">0.2</text>
<line x1="453.10" y1="214.60" x2="455.60" y2="214.60" stroke="#222" stroke-width="1"/>
<text x="446.80" y="217.70" font-size="8.6" fill="#222" text-anchor="middle" font-family='"Liberation Sans",Arial,sans-serif' stroke="#222" stroke-width="0.29">0.3</text>
<line x1="453.10" y1="191.60" x2="455.60" y2="191.60" stroke="#222" stroke-width="1"/>
<text x="446.80" y="194.70" font-size="8.6" fill="#222" text-anchor="middle" font-family='"Liberation Sans",Arial,sans-serif' stroke="#222" stroke-width="0.29">0.4</text>
<line x1="454.10" y1="272.10" x2="455.60" y2="272.10" stroke="#222" stroke-width="0.8"/>
<line x1="454.10" y1="260.60" x2="455.60" y2="260.60" stroke="#222" stroke-width="0.8"/>
<line x1="454.10" y1="249.10" x2="455.60" y2="249.10" stroke="#222" stroke-width="0.8"/>
<line x1="454.10" y1="237.60" x2="455.60" y2="237.60" stroke="#222" stroke-width="0.8"/>
<line x1="454.10" y1="226.10" x2="455.60" y2="226.10" stroke="#222" stroke-width="0.8"/>
<line x1="454.10" y1="214.60" x2="455.60" y2="214.60" stroke="#222" stroke-width="0.8"/>
<line x1="454.10" y1="203.10" x2="455.60" y2="203.10" stroke="#222" stroke-width="0.8"/>
<line x1="454.10" y1="191.60" x2="455.60" y2="191.60" stroke="#222" stroke-width="0.8"/>
<line x1="455.60" y1="283.60" x2="455.60" y2="286.10" stroke="#222" stroke-width="1"/>
<text x="455.60" y="294.30" font-size="8.6" fill="#222" text-anchor="middle" font-family='"Liberation Sans",Arial,sans-serif' stroke="#222" stroke-width="0.29">0.0</text>
<line x1="492.10" y1="283.60" x2="492.10" y2="286.10" stroke="#222" stroke-width="1"/>
<text x="492.10" y="294.30" font-size="8.6" fill="#222" text-anchor="middle" font-family='"Liberation Sans",Arial,sans-serif' stroke="#222" stroke-width="0.29">0.1</text>
<line x1="528.60" y1="283.60" x2="528.60" y2="286.10" stroke="#222" stroke-width="1"/>
<text x="528.60" y="294.30" font-size="8.6" fill="#222" text-anchor="middle" font-family='"Liberation Sans",Arial,sans-serif' stroke="#222" stroke-width="0.29">0.2</text><text x="6.50" y="352.70" font-size="19.3" fill="#111" text-anchor="start" font-family='"Liberation Serif","Times New Roman",serif'>(c)</text>
<polyline points="119.26,481.00 125.14,462.50 131.01,452.00 136.89,443.60 142.76,436.00 148.64,430.00 154.52,425.00 160.39,420.80 166.27,417.00 172.14,413.50 178.02,410.20 183.90,407.20 189.77,404.50 195.65,402.20 201.52,400.10 207.40,398.30 213.28,396.60 219.15,395.10 225.03,393.60 230.90,392.30 236.78,391.10 242.66,390.10 248.53,389.20" fill="none" stroke="#ec5a60" stroke-width="1.2"/><circle cx="119.26" cy="481.00" r="2.6" fill="#ec5a60"/><circle cx="125.14" cy="462.50" r="2.6" fill="#ec5a60"/><circle cx="131.01" cy="452.00" r="2.6" fill="#ec5a60"/><circle cx="136.89" cy="443.60" r="2.6" fill="#ec5a60"/><circle cx="142.76" cy="436.00" r="2.6" fill="#ec5a60"/><circle cx="148.64" cy="430.00" r="2.6" fill="#ec5a60"/><circle cx="154.52" cy="425.00" r="2.6" fill="#ec5a60"/><circle cx="160.39" cy="420.80" r="2.6" fill="#ec5a60"/><circle cx="166.27" cy="417.00" r="2.6" fill="#ec5a60"/><circle cx="172.14" cy="413.50" r="2.6" fill="#ec5a60"/><circle cx="178.02" cy="410.20" r="2.6" fill="#ec5a60"/><circle cx="183.90" cy="407.20" r="2.6" fill="#ec5a60"/><circle cx="189.77" cy="404.50" r="2.6" fill="#ec5a60"/><circle cx="195.65" cy="402.20" r="2.6" fill="#ec5a60"/><circle cx="201.52" cy="400.10" r="2.6" fill="#ec5a60"/><circle cx="207.40" cy="398.30" r="2.6" fill="#ec5a60"/><circle cx="213.28" cy="396.60" r="2.6" fill="#ec5a60"/><circle cx="219.15" cy="395.10" r="2.6" fill="#ec5a60"/><circle cx="225.03" cy="393.60" r="2.6" fill="#ec5a60"/><circle cx="230.90" cy="392.30" r="2.6" fill="#ec5a60"/><circle cx="236.78" cy="391.10" r="2.6" fill="#ec5a60"/><circle cx="242.66" cy="390.10" r="2.6" fill="#ec5a60"/><circle cx="248.53" cy="389.20" r="2.6" fill="#ec5a60"/>
<polyline points="119.26,479.60 125.14,461.60 131.01,450.00 136.89,440.40 142.76,433.00 148.64,427.00 154.52,421.80 160.39,416.50 166.27,412.50 172.14,409.30 178.02,406.00 183.90,403.40 189.77,401.20 195.65,399.00 201.52,396.80 207.40,395.10 213.28,393.30 219.15,391.80 225.03,390.30 230.90,389.00 236.78,387.90 242.66,386.60 248.53,385.70" fill="none" stroke="#52b47c" stroke-width="1.2"/><circle cx="119.26" cy="479.60" r="2.6" fill="#52b47c"/><circle cx="125.14" cy="461.60" r="2.6" fill="#52b47c"/><circle cx="131.01" cy="450.00" r="2.6" fill="#52b47c"/><circle cx="136.89" cy="440.40" r="2.6" fill="#52b47c"/><circle cx="142.76" cy="433.00" r="2.6" fill="#52b47c"/><circle cx="148.64" cy="427.00" r="2.6" fill="#52b47c"/><circle cx="154.52" cy="421.80" r="2.6" fill="#52b47c"/><circle cx="160.39" cy="416.50" r="2.6" fill="#52b47c"/><circle cx="166.27" cy="412.50" r="2.6" fill="#52b47c"/><circle cx="172.14" cy="409.30" r="2.6" fill="#52b47c"/><circle cx="178.02" cy="406.00" r="2.6" fill="#52b47c"/><circle cx="183.90" cy="403.40" r="2.6" fill="#52b47c"/><circle cx="189.77" cy="401.20" r="2.6" fill="#52b47c"/><circle cx="195.65" cy="399.00" r="2.6" fill="#52b47c"/><circle cx="201.52" cy="396.80" r="2.6" fill="#52b47c"/><circle cx="207.40" cy="395.10" r="2.6" fill="#52b47c"/><circle cx="213.28" cy="393.30" r="2.6" fill="#52b47c"/><circle cx="219.15" cy="391.80" r="2.6" fill="#52b47c"/><circle cx="225.03" cy="390.30" r="2.6" fill="#52b47c"/><circle cx="230.90" cy="389.00" r="2.6" fill="#52b47c"/><circle cx="236.78" cy="387.90" r="2.6" fill="#52b47c"/><circle cx="242.66" cy="386.60" r="2.6" fill="#52b47c"/><circle cx="248.53" cy="385.70" r="2.6" fill="#52b47c"/>
<polyline points="119.26,474.00 125.14,455.80 131.01,443.30 136.89,433.80 142.76,425.50 148.64,419.10 154.52,413.60 160.39,408.80 166.27,404.90 172.14,401.20 178.02,397.90 183.90,395.50 189.77,393.30 195.65,391.40 201.52,389.60 207.40,388.10 213.28,386.80 219.15,385.70 225.03,384.60 230.90,383.50" fill="none" stroke="#3990d4" stroke-width="1.2"/><circle cx="119.26" cy="474.00" r="2.6" fill="#3990d4"/><circle cx="125.14" cy="455.80" r="2.6" fill="#3990d4"/><circle cx="131.01" cy="443.30" r="2.6" fill="#3990d4"/><circle cx="136.89" cy="433.80" r="2.6" fill="#3990d4"/><circle cx="142.76" cy="425.50" r="2.6" fill="#3990d4"/><circle cx="148.64" cy="419.10" r="2.6" fill="#3990d4"/><circle cx="154.52" cy="413.60" r="2.6" fill="#3990d4"/><circle cx="160.39" cy="408.80" r="2.6" fill="#3990d4"/><circle cx="166.27" cy="404.90" r="2.6" fill="#3990d4"/><circle cx="172.14" cy="401.20" r="2.6" fill="#3990d4"/><circle cx="178.02" cy="397.90" r="2.6" fill="#3990d4"/><circle cx="183.90" cy="395.50" r="2.6" fill="#3990d4"/><circle cx="189.77" cy="393.30" r="2.6" fill="#3990d4"/><circle cx="195.65" cy="391.40" r="2.6" fill="#3990d4"/><circle cx="201.52" cy="389.60" r="2.6" fill="#3990d4"/><circle cx="207.40" cy="388.10" r="2.6" fill="#3990d4"/><circle cx="213.28" cy="386.80" r="2.6" fill="#3990d4"/><circle cx="219.15" cy="385.70" r="2.6" fill="#3990d4"/><circle cx="225.03" cy="384.60" r="2.6" fill="#3990d4"/><circle cx="230.90" cy="383.50" r="2.6" fill="#3990d4"/>
<polyline points="60.50,449.00 66.38,447.50 72.25,441.00 78.13,449.00 84.00,451.00 89.88,445.00 95.76,441.50 101.63,439.00 107.51,433.00 113.38,427.00 119.26,419.00 125.14,409.00 131.01,402.00 136.89,396.00 142.76,390.50 148.64,386.50 154.52,383.00 160.39,380.00 166.27,377.30 172.14,374.80 178.02,372.50 183.90,370.50 189.77,368.60 195.65,366.80 201.52,365.10 207.40,363.50 213.28,362.30 219.15,361.20 225.03,360.20 230.90,359.40 236.78,358.40 242.66,357.00 248.53,355.50" fill="none" stroke="#ec5a60" stroke-width="1.2"/><circle cx="60.50" cy="449.00" r="2.25" fill="#fff" stroke="#ec5a60" stroke-width="1.2"/><circle cx="66.38" cy="447.50" r="2.25" fill="#fff" stroke="#ec5a60" stroke-width="1.2"/><circle cx="72.25" cy="441.00" r="2.25" fill="#fff" stroke="#ec5a60" stroke-width="1.2"/><circle cx="78.13" cy="449.00" r="2.25" fill="#fff" stroke="#ec5a60" stroke-width="1.2"/><circle cx="84.00" cy="451.00" r="2.25" fill="#fff" stroke="#ec5a60" stroke-width="1.2"/><circle cx="89.88" cy="445.00" r="2.25" fill="#fff" stroke="#ec5a60" stroke-width="1.2"/><circle cx="95.76" cy="441.50" r="2.25" fill="#fff" stroke="#ec5a60" stroke-width="1.2"/><circle cx="101.63" cy="439.00" r="2.25" fill="#fff" stroke="#ec5a60" stroke-width="1.2"/><circle cx="107.51" cy="433.00" r="2.25" fill="#fff" stroke="#ec5a60" stroke-width="1.2"/><circle cx="113.38" cy="427.00" r="2.25" fill="#fff" stroke="#ec5a60" stroke-width="1.2"/><circle cx="119.26" cy="419.00" r="2.25" fill="#fff" stroke="#ec5a60" stroke-width="1.2"/><circle cx="125.14" cy="409.00" r="2.25" fill="#fff" stroke="#ec5a60" stroke-width="1.2"/><circle cx="131.01" cy="402.00" r="2.25" fill="#fff" stroke="#ec5a60" stroke-width="1.2"/><circle cx="136.89" cy="396.00" r="2.25" fill="#fff" stroke="#ec5a60" stroke-width="1.2"/><circle cx="142.76" cy="390.50" r="2.25" fill="#fff" stroke="#ec5a60" stroke-width="1.2"/><circle cx="148.64" cy="386.50" r="2.25" fill="#fff" stroke="#ec5a60" stroke-width="1.2"/><circle cx="154.52" cy="383.00" r="2.25" fill="#fff" stroke="#ec5a60" stroke-width="1.2"/><circle cx="160.39" cy="380.00" r="2.25" fill="#fff" stroke="#ec5a60" stroke-width="1.2"/><circle cx="166.27" cy="377.30" r="2.25" fill="#fff" stroke="#ec5a60" stroke-width="1.2"/><circle cx="172.14" cy="374.80" r="2.25" fill="#fff" stroke="#ec5a60" stroke-width="1.2"/><circle cx="178.02" cy="372.50" r="2.25" fill="#fff" stroke="#ec5a60" stroke-width="1.2"/><circle cx="183.90" cy="370.50" r="2.25" fill="#fff" stroke="#ec5a60" stroke-width="1.2"/><circle cx="189.77" cy="368.60" r="2.25" fill="#fff" stroke="#ec5a60" stroke-width="1.2"/><circle cx="195.65" cy="366.80" r="2.25" fill="#fff" stroke="#ec5a60" stroke-width="1.2"/><circle cx="201.52" cy="365.10" r="2.25" fill="#fff" stroke="#ec5a60" stroke-width="1.2"/><circle cx="207.40" cy="363.50" r="2.25" fill="#fff" stroke="#ec5a60" stroke-width="1.2"/><circle cx="213.28" cy="362.30" r="2.25" fill="#fff" stroke="#ec5a60" stroke-width="1.2"/><circle cx="219.15" cy="361.20" r="2.25" fill="#fff" stroke="#ec5a60" stroke-width="1.2"/><circle cx="225.03" cy="360.20" r="2.25" fill="#fff" stroke="#ec5a60" stroke-width="1.2"/><circle cx="230.90" cy="359.40" r="2.25" fill="#fff" stroke="#ec5a60" stroke-width="1.2"/><circle cx="236.78" cy="358.40" r="2.25" fill="#fff" stroke="#ec5a60" stroke-width="1.2"/><circle cx="242.66" cy="357.00" r="2.25" fill="#fff" stroke="#ec5a60" stroke-width="1.2"/><circle cx="248.53" cy="355.50" r="2.25" fill="#fff" stroke="#ec5a60" stroke-width="1.2"/>
<polyline points="60.50,448.40 66.38,445.60 72.25,444.00 78.13,444.40 84.00,442.40 89.88,440.40 95.76,440.00 101.63,436.00 107.51,431.00 113.38,425.50 119.26,418.50 125.14,410.00 131.01,403.00 136.89,397.50 142.76,391.50 148.64,387.50 154.52,384.00 160.39,381.20 166.27,378.60 172.14,376.20 178.02,374.00 183.90,372.00 189.77,370.20 195.65,368.50 201.52,366.90 207.40,365.30 213.28,363.90 219.15,362.60 225.03,361.30 230.90,360.10 236.78,359.00 242.66,358.00 248.53,357.00" fill="none" stroke="#52b47c" stroke-width="1.2"/><circle cx="60.50" cy="448.40" r="2.25" fill="#fff" stroke="#52b47c" stroke-width="1.2"/><circle cx="66.38" cy="445.60" r="2.25" fill="#fff" stroke="#52b47c" stroke-width="1.2"/><circle cx="72.25" cy="444.00" r="2.25" fill="#fff" stroke="#52b47c" stroke-width="1.2"/><circle cx="78.13" cy="444.40" r="2.25" fill="#fff" stroke="#52b47c" stroke-width="1.2"/><circle cx="84.00" cy="442.40" r="2.25" fill="#fff" stroke="#52b47c" stroke-width="1.2"/><circle cx="89.88" cy="440.40" r="2.25" fill="#fff" stroke="#52b47c" stroke-width="1.2"/><circle cx="95.76" cy="440.00" r="2.25" fill="#fff" stroke="#52b47c" stroke-width="1.2"/><circle cx="101.63" cy="436.00" r="2.25" fill="#fff" stroke="#52b47c" stroke-width="1.2"/><circle cx="107.51" cy="431.00" r="2.25" fill="#fff" stroke="#52b47c" stroke-width="1.2"/><circle cx="113.38" cy="425.50" r="2.25" fill="#fff" stroke="#52b47c" stroke-width="1.2"/><circle cx="119.26" cy="418.50" r="2.25" fill="#fff" stroke="#52b47c" stroke-width="1.2"/><circle cx="125.14" cy="410.00" r="2.25" fill="#fff" stroke="#52b47c" stroke-width="1.2"/><circle cx="131.01" cy="403.00" r="2.25" fill="#fff" stroke="#52b47c" stroke-width="1.2"/><circle cx="136.89" cy="397.50" r="2.25" fill="#fff" stroke="#52b47c" stroke-width="1.2"/><circle cx="142.76" cy="391.50" r="2.25" fill="#fff" stroke="#52b47c" stroke-width="1.2"/><circle cx="148.64" cy="387.50" r="2.25" fill="#fff" stroke="#52b47c" stroke-width="1.2"/><circle cx="154.52" cy="384.00" r="2.25" fill="#fff" stroke="#52b47c" stroke-width="1.2"/><circle cx="160.39" cy="381.20" r="2.25" fill="#fff" stroke="#52b47c" stroke-width="1.2"/><circle cx="166.27" cy="378.60" r="2.25" fill="#fff" stroke="#52b47c" stroke-width="1.2"/><circle cx="172.14" cy="376.20" r="2.25" fill="#fff" stroke="#52b47c" stroke-width="1.2"/><circle cx="178.02" cy="374.00" r="2.25" fill="#fff" stroke="#52b47c" stroke-width="1.2"/><circle cx="183.90" cy="372.00" r="2.25" fill="#fff" stroke="#52b47c" stroke-width="1.2"/><circle cx="189.77" cy="370.20" r="2.25" fill="#fff" stroke="#52b47c" stroke-width="1.2"/><circle cx="195.65" cy="368.50" r="2.25" fill="#fff" stroke="#52b47c" stroke-width="1.2"/><circle cx="201.52" cy="366.90" r="2.25" fill="#fff" stroke="#52b47c" stroke-width="1.2"/><circle cx="207.40" cy="365.30" r="2.25" fill="#fff" stroke="#52b47c" stroke-width="1.2"/><circle cx="213.28" cy="363.90" r="2.25" fill="#fff" stroke="#52b47c" stroke-width="1.2"/><circle cx="219.15" cy="362.60" r="2.25" fill="#fff" stroke="#52b47c" stroke-width="1.2"/><circle cx="225.03" cy="361.30" r="2.25" fill="#fff" stroke="#52b47c" stroke-width="1.2"/><circle cx="230.90" cy="360.10" r="2.25" fill="#fff" stroke="#52b47c" stroke-width="1.2"/><circle cx="236.78" cy="359.00" r="2.25" fill="#fff" stroke="#52b47c" stroke-width="1.2"/><circle cx="242.66" cy="358.00" r="2.25" fill="#fff" stroke="#52b47c" stroke-width="1.2"/><circle cx="248.53" cy="357.00" r="2.25" fill="#fff" stroke="#52b47c" stroke-width="1.2"/>
<polyline points="60.50,448.40 66.38,452.00 72.25,455.60 78.13,456.40 84.00,454.40 89.88,446.40 95.76,440.40 101.63,434.40 107.51,429.00 113.38,423.00 119.26,415.60 125.14,406.40 131.01,399.60 136.89,393.60 142.76,387.80 148.64,384.00 154.52,380.60 160.39,377.70 166.27,375.10 172.14,372.70 178.02,370.50 183.90,368.60 189.77,366.80 195.65,365.10 201.52,363.50 207.40,362.00 213.28,360.70 219.15,359.20 225.03,357.70 230.90,355.90" fill="none" stroke="#3990d4" stroke-width="1.2"/><circle cx="60.50" cy="448.40" r="2.25" fill="#fff" stroke="#3990d4" stroke-width="1.2"/><circle cx="66.38" cy="452.00" r="2.25" fill="#fff" stroke="#3990d4" stroke-width="1.2"/><circle cx="72.25" cy="455.60" r="2.25" fill="#fff" stroke="#3990d4" stroke-width="1.2"/><circle cx="78.13" cy="456.40" r="2.25" fill="#fff" stroke="#3990d4" stroke-width="1.2"/><circle cx="84.00" cy="454.40" r="2.25" fill="#fff" stroke="#3990d4" stroke-width="1.2"/><circle cx="89.88" cy="446.40" r="2.25" fill="#fff" stroke="#3990d4" stroke-width="1.2"/><circle cx="95.76" cy="440.40" r="2.25" fill="#fff" stroke="#3990d4" stroke-width="1.2"/><circle cx="101.63" cy="434.40" r="2.25" fill="#fff" stroke="#3990d4" stroke-width="1.2"/><circle cx="107.51" cy="429.00" r="2.25" fill="#fff" stroke="#3990d4" stroke-width="1.2"/><circle cx="113.38" cy="423.00" r="2.25" fill="#fff" stroke="#3990d4" stroke-width="1.2"/><circle cx="119.26" cy="415.60" r="2.25" fill="#fff" stroke="#3990d4" stroke-width="1.2"/><circle cx="125.14" cy="406.40" r="2.25" fill="#fff" stroke="#3990d4" stroke-width="1.2"/><circle cx="131.01" cy="399.60" r="2.25" fill="#fff" stroke="#3990d4" stroke-width="1.2"/><circle cx="136.89" cy="393.60" r="2.25" fill="#fff" stroke="#3990d4" stroke-width="1.2"/><circle cx="142.76" cy="387.80" r="2.25" fill="#fff" stroke="#3990d4" stroke-width="1.2"/><circle cx="148.64" cy="384.00" r="2.25" fill="#fff" stroke="#3990d4" stroke-width="1.2"/><circle cx="154.52" cy="380.60" r="2.25" fill="#fff" stroke="#3990d4" stroke-width="1.2"/><circle cx="160.39" cy="377.70" r="2.25" fill="#fff" stroke="#3990d4" stroke-width="1.2"/><circle cx="166.27" cy="375.10" r="2.25" fill="#fff" stroke="#3990d4" stroke-width="1.2"/><circle cx="172.14" cy="372.70" r="2.25" fill="#fff" stroke="#3990d4" stroke-width="1.2"/><circle cx="178.02" cy="370.50" r="2.25" fill="#fff" stroke="#3990d4" stroke-width="1.2"/><circle cx="183.90" cy="368.60" r="2.25" fill="#fff" stroke="#3990d4" stroke-width="1.2"/><circle cx="189.77" cy="366.80" r="2.25" fill="#fff" stroke="#3990d4" stroke-width="1.2"/><circle cx="195.65" cy="365.10" r="2.25" fill="#fff" stroke="#3990d4" stroke-width="1.2"/><circle cx="201.52" cy="363.50" r="2.25" fill="#fff" stroke="#3990d4" stroke-width="1.2"/><circle cx="207.40" cy="362.00" r="2.25" fill="#fff" stroke="#3990d4" stroke-width="1.2"/><circle cx="213.28" cy="360.70" r="2.25" fill="#fff" stroke="#3990d4" stroke-width="1.2"/><circle cx="219.15" cy="359.20" r="2.25" fill="#fff" stroke="#3990d4" stroke-width="1.2"/><circle cx="225.03" cy="357.70" r="2.25" fill="#fff" stroke="#3990d4" stroke-width="1.2"/><circle cx="230.90" cy="355.90" r="2.25" fill="#fff" stroke="#3990d4" stroke-width="1.2"/>
<rect x="53.4" y="351.2" width="205.8" height="130.4" fill="none" stroke="#2a2a2a" stroke-width="1.6"/>
<line x1="50.40" y1="481.60" x2="53.40" y2="481.60" stroke="#222" stroke-width="1"/>
<text x="48.80" y="484.50" font-size="8" fill="#222" text-anchor="end" font-family='"Liberation Sans",Arial,sans-serif' stroke="#222" stroke-width="0.3">10<tspan font-size="4.64" dy="-3.6">-9</tspan></text>
<line x1="51.40" y1="470.80" x2="53.40" y2="470.80" stroke="#222" stroke-width="1"/>
<line x1="51.40" y1="460.00" x2="53.40" y2="460.00" stroke="#222" stroke-width="1"/>
<line x1="50.40" y1="449.20" x2="53.40" y2="449.20" stroke="#222" stroke-width="1"/>
<text x="48.80" y="452.10" font-size="8" fill="#222" text-anchor="end" font-family='"Liberation Sans",Arial,sans-serif' stroke="#222" stroke-width="0.3">10<tspan font-size="4.64" dy="-3.6">-6</tspan></text>
<line x1="51.40" y1="438.40" x2="53.40" y2="438.40" stroke="#222" stroke-width="1"/>
<line x1="51.40" y1="427.60" x2="53.40" y2="427.60" stroke="#222" stroke-width="1"/>
<line x1="50.40" y1="416.80" x2="53.40" y2="416.80" stroke="#222" stroke-width="1"/>
<text x="48.80" y="419.70" font-size="8" fill="#222" text-anchor="end" font-family='"Liberation Sans",Arial,sans-serif' stroke="#222" stroke-width="0.3">10<tspan font-size="4.64" dy="-3.6">-3</tspan></text>
<line x1="51.40" y1="406.00" x2="53.40" y2="406.00" stroke="#222" stroke-width="1"/>
<line x1="51.40" y1="395.20" x2="53.40" y2="395.20" stroke="#222" stroke-width="1"/>
<line x1="50.40" y1="384.40" x2="53.40" y2="384.40" stroke="#222" stroke-width="1"/>
<text x="48.80" y="387.30" font-size="8" fill="#222" text-anchor="end" font-family='"Liberation Sans",Arial,sans-serif' stroke="#222" stroke-width="0.3">10<tspan font-size="4.64" dy="-3.6">0</tspan></text>
<line x1="51.40" y1="373.60" x2="53.40" y2="373.60" stroke="#222" stroke-width="1"/>
<line x1="51.40" y1="362.80" x2="53.40" y2="362.80" stroke="#222" stroke-width="1"/>
<line x1="50.40" y1="352.00" x2="53.40" y2="352.00" stroke="#222" stroke-width="1"/>
<text x="48.80" y="354.90" font-size="8" fill="#222" text-anchor="end" font-family='"Liberation Sans",Arial,sans-serif' stroke="#222" stroke-width="0.3">10<tspan font-size="4.64" dy="-3.6">3</tspan></text>
<line x1="259.20" y1="481.60" x2="262.20" y2="481.60" stroke="#222" stroke-width="1"/>
<text x="263.50" y="484.20" font-size="7" fill="#222" text-anchor="start" font-family='"Liberation Sans",Arial,sans-serif' stroke="#222" stroke-width="0.3">10<tspan font-size="4.06" dy="-3.15">-1</tspan></text>
<line x1="259.20" y1="462.94" x2="261.20" y2="462.94" stroke="#222" stroke-width="1"/>
<line x1="259.20" y1="444.28" x2="262.20" y2="444.28" stroke="#222" stroke-width="1"/>
<text x="263.50" y="446.88" font-size="7" fill="#222" text-anchor="start" font-family='"Liberation Sans",Arial,sans-serif' stroke="#222" stroke-width="0.3">10<tspan font-size="4.06" dy="-3.15">1</tspan></text>
<line x1="259.20" y1="425.62" x2="261.20" y2="425.62" stroke="#222" stroke-width="1"/>
<line x1="259.20" y1="406.96" x2="262.20" y2="406.96" stroke="#222" stroke-width="1"/>
<text x="263.50" y="409.56" font-size="7" fill="#222" text-anchor="start" font-family='"Liberation Sans",Arial,sans-serif' stroke="#222" stroke-width="0.3">10<tspan font-size="4.06" dy="-3.15">3</tspan></text>
<line x1="259.20" y1="388.30" x2="261.20" y2="388.30" stroke="#222" stroke-width="1"/>
<line x1="259.20" y1="369.64" x2="262.20" y2="369.64" stroke="#222" stroke-width="1"/>
<text x="263.50" y="372.24" font-size="7" fill="#222" text-anchor="start" font-family='"Liberation Sans",Arial,sans-serif' stroke="#222" stroke-width="0.3">10<tspan font-size="4.06" dy="-3.15">5</tspan></text>
<line x1="259.20" y1="350.98" x2="261.20" y2="350.98" stroke="#222" stroke-width="1"/>
<line x1="259.20" y1="475.98" x2="260.90" y2="475.98" stroke="#222" stroke-width="0.7"/>
<line x1="259.20" y1="472.70" x2="260.90" y2="472.70" stroke="#222" stroke-width="0.7"/>
<line x1="259.20" y1="470.37" x2="260.90" y2="470.37" stroke="#222" stroke-width="0.7"/>
<line x1="259.20" y1="468.56" x2="260.90" y2="468.56" stroke="#222" stroke-width="0.7"/>
<line x1="259.20" y1="467.08" x2="260.90" y2="467.08" stroke="#222" stroke-width="0.7"/>
<line x1="259.20" y1="465.83" x2="260.90" y2="465.83" stroke="#222" stroke-width="0.7"/>
<line x1="259.20" y1="464.75" x2="260.90" y2="464.75" stroke="#222" stroke-width="0.7"/>
<line x1="259.20" y1="463.79" x2="260.90" y2="463.79" stroke="#222" stroke-width="0.7"/>
<line x1="259.20" y1="457.32" x2="260.90" y2="457.32" stroke="#222" stroke-width="0.7"/>
<line x1="259.20" y1="454.04" x2="260.90" y2="454.04" stroke="#222" stroke-width="0.7"/>
<line x1="259.20" y1="451.71" x2="260.90" y2="451.71" stroke="#222" stroke-width="0.7"/>
<line x1="259.20" y1="449.90" x2="260.90" y2="449.90" stroke="#222" stroke-width="0.7"/>
<line x1="259.20" y1="448.42" x2="260.90" y2="448.42" stroke="#222" stroke-width="0.7"/>
<line x1="259.20" y1="447.17" x2="260.90" y2="447.17" stroke="#222" stroke-width="0.7"/>
<line x1="259.20" y1="446.09" x2="260.90" y2="446.09" stroke="#222" stroke-width="0.7"/>
<line x1="259.20" y1="445.13" x2="260.90" y2="445.13" stroke="#222" stroke-width="0.7"/>
<line x1="259.20" y1="438.66" x2="260.90" y2="438.66" stroke="#222" stroke-width="0.7"/>
<line x1="259.20" y1="435.38" x2="260.90" y2="435.38" stroke="#222" stroke-width="0.7"/>
<line x1="259.20" y1="433.05" x2="260.90" y2="433.05" stroke="#222" stroke-width="0.7"/>
<line x1="259.20" y1="431.24" x2="260.90" y2="431.24" stroke="#222" stroke-width="0.7"/>
<line x1="259.20" y1="429.76" x2="260.90" y2="429.76" stroke="#222" stroke-width="0.7"/>
<line x1="259.20" y1="428.51" x2="260.90" y2="428.51" stroke="#222" stroke-width="0.7"/>
<line x1="259.20" y1="427.43" x2="260.90" y2="427.43" stroke="#222" stroke-width="0.7"/>
<line x1="259.20" y1="426.47" x2="260.90" y2="426.47" stroke="#222" stroke-width="0.7"/>
<line x1="259.20" y1="420.00" x2="260.90" y2="420.00" stroke="#222" stroke-width="0.7"/>
<line x1="259.20" y1="416.72" x2="260.90" y2="416.72" stroke="#222" stroke-width="0.7"/>
<line x1="259.20" y1="414.39" x2="260.90" y2="414.39" stroke="#222" stroke-width="0.7"/>
<line x1="259.20" y1="412.58" x2="260.90" y2="412.58" stroke="#222" stroke-width="0.7"/>
<line x1="259.20" y1="411.10" x2="260.90" y2="411.10" stroke="#222" stroke-width="0.7"/>
<line x1="259.20" y1="409.85" x2="260.90" y2="409.85" stroke="#222" stroke-width="0.7"/>
<line x1="259.20" y1="408.77" x2="260.90" y2="408.77" stroke="#222" stroke-width="0.7"/>
<line x1="259.20" y1="407.81" x2="260.90" y2="407.81" stroke="#222" stroke-width="0.7"/>
<line x1="259.20" y1="401.34" x2="260.90" y2="401.34" stroke="#222" stroke-width="0.7"/>
<line x1="259.20" y1="398.06" x2="260.90" y2="398.06" stroke="#222" stroke-width="0.7"/>
<line x1="259.20" y1="395.73" x2="260.90" y2="395.73" stroke="#222" stroke-width="0.7"/>
<line x1="259.20" y1="393.92" x2="260.90" y2="393.92" stroke="#222" stroke-width="0.7"/>
<line x1="259.20" y1="392.44" x2="260.90" y2="392.44" stroke="#222" stroke-width="0.7"/>
<line x1="259.20" y1="391.19" x2="260.90" y2="391.19" stroke="#222" stroke-width="0.7"/>
<line x1="259.20" y1="390.11" x2="260.90" y2="390.11" stroke="#222" stroke-width="0.7"/>
<line x1="259.20" y1="389.15" x2="260.90" y2="389.15" stroke="#222" stroke-width="0.7"/>
<line x1="259.20" y1="382.68" x2="260.90" y2="382.68" stroke="#222" stroke-width="0.7"/>
<line x1="259.20" y1="379.40" x2="260.90" y2="379.40" stroke="#222" stroke-width="0.7"/>
<line x1="259.20" y1="377.07" x2="260.90" y2="377.07" stroke="#222" stroke-width="0.7"/>
<line x1="259.20" y1="375.26" x2="260.90" y2="375.26" stroke="#222" stroke-width="0.7"/>
<line x1="259.20" y1="373.78" x2="260.90" y2="373.78" stroke="#222" stroke-width="0.7"/>
<line x1="259.20" y1="372.53" x2="260.90" y2="372.53" stroke="#222" stroke-width="0.7"/>
<line x1="259.20" y1="371.45" x2="260.90" y2="371.45" stroke="#222" stroke-width="0.7"/>
<line x1="259.20" y1="370.49" x2="260.90" y2="370.49" stroke="#222" stroke-width="0.7"/>
<line x1="259.20" y1="364.02" x2="260.90" y2="364.02" stroke="#222" stroke-width="0.7"/>
<line x1="259.20" y1="360.74" x2="260.90" y2="360.74" stroke="#222" stroke-width="0.7"/>
<line x1="259.20" y1="358.41" x2="260.90" y2="358.41" stroke="#222" stroke-width="0.7"/>
<line x1="259.20" y1="356.60" x2="260.90" y2="356.60" stroke="#222" stroke-width="0.7"/>
<line x1="259.20" y1="355.12" x2="260.90" y2="355.12" stroke="#222" stroke-width="0.7"/>
<line x1="259.20" y1="353.87" x2="260.90" y2="353.87" stroke="#222" stroke-width="0.7"/>
<line x1="259.20" y1="352.79" x2="260.90" y2="352.79" stroke="#222" stroke-width="0.7"/>
<line x1="259.20" y1="351.83" x2="260.90" y2="351.83" stroke="#222" stroke-width="0.7"/>
<line x1="60.50" y1="481.60" x2="60.50" y2="484.60" stroke="#222" stroke-width="1"/>
<text x="60.50" y="493.83" font-size="9.8" fill="#222" text-anchor="middle" font-family='"Liberation Sans",Arial,sans-serif' stroke="#222" stroke-width="0.30">0</text>
<line x1="75.19" y1="481.60" x2="75.19" y2="483.60" stroke="#222" stroke-width="1"/>
<line x1="89.88" y1="481.60" x2="89.88" y2="484.60" stroke="#222" stroke-width="1"/>
<text x="89.88" y="493.83" font-size="9.8" fill="#222" text-anchor="middle" font-family='"Liberation Sans",Arial,sans-serif' stroke="#222" stroke-width="0.30">2</text>
<line x1="104.57" y1="481.60" x2="104.57" y2="483.60" stroke="#222" stroke-width="1"/>
<line x1="119.26" y1="481.60" x2="119.26" y2="484.60" stroke="#222" stroke-width="1"/>
<text x="119.26" y="493.83" font-size="9.8" fill="#222" text-anchor="middle" font-family='"Liberation Sans",Arial,sans-serif' stroke="#222" stroke-width="0.30">4</text>
<line x1="133.95" y1="481.60" x2="133.95" y2="483.60" stroke="#222" stroke-width="1"/>
<line x1="148.64" y1="481.60" x2="148.64" y2="484.60" stroke="#222" stroke-width="1"/>
<text x="148.64" y="493.83" font-size="9.8" fill="#222" text-anchor="middle" font-family='"Liberation Sans",Arial,sans-serif' stroke="#222" stroke-width="0.30">6</text>
<line x1="163.33" y1="481.60" x2="163.33" y2="483.60" stroke="#222" stroke-width="1"/>
<line x1="178.02" y1="481.60" x2="178.02" y2="484.60" stroke="#222" stroke-width="1"/>
<text x="178.02" y="493.83" font-size="9.8" fill="#222" text-anchor="middle" font-family='"Liberation Sans",Arial,sans-serif' stroke="#222" stroke-width="0.30">8</text>
<line x1="192.71" y1="481.60" x2="192.71" y2="483.60" stroke="#222" stroke-width="1"/>
<line x1="207.40" y1="481.60" x2="207.40" y2="484.60" stroke="#222" stroke-width="1"/>
<text x="207.40" y="493.83" font-size="9.8" fill="#222" text-anchor="middle" font-family='"Liberation Sans",Arial,sans-serif' stroke="#222" stroke-width="0.30">10</text>
<line x1="222.09" y1="481.60" x2="222.09" y2="483.60" stroke="#222" stroke-width="1"/>
<line x1="236.78" y1="481.60" x2="236.78" y2="484.60" stroke="#222" stroke-width="1"/>
<text x="236.78" y="493.83" font-size="9.8" fill="#222" text-anchor="middle" font-family='"Liberation Sans",Arial,sans-serif' stroke="#222" stroke-width="0.30">12</text>
<line x1="251.47" y1="481.60" x2="251.47" y2="483.60" stroke="#222" stroke-width="1"/>
<text x="156.00" y="506.80" font-size="10" fill="#222" text-anchor="middle" font-family='"Liberation Sans",Arial,sans-serif' stroke="#222" stroke-width="0.30">Voltage (V)</text>
<text x="30.0" y="417" font-size="9.6" fill="#222" stroke="#222" stroke-width="0.3" text-anchor="middle" font-family='"Liberation Sans",Arial,sans-serif' transform="rotate(-90 30 417)" dy="3.4">Current Density (mA cm<tspan font-size="6" dy="-3.6">-2</tspan><tspan dy="3.6">)</tspan></text>
<text x="283.1" y="416.8" font-size="9.6" fill="#222" stroke="#222" stroke-width="0.3" text-anchor="middle" font-family='"Liberation Sans",Arial,sans-serif' transform="rotate(90 283.1 416.8)" dy="3.4">Luminance (cd m<tspan font-size="6" dy="-3.6">-2</tspan><tspan dy="3.6">)</tspan></text>
<line x1="63.00" y1="368.40" x2="80.00" y2="368.40" stroke="#ec5a60" stroke-width="1.5"/>
<circle cx="71.4" cy="368.40" r="2.25" fill="#fff" stroke="#ec5a60" stroke-width="1.2"/>
<text x="82.20" y="371.60" font-size="8.7" fill="#111" text-anchor="start" font-family='"Liberation Sans",Arial,sans-serif' font-weight="bold">BN1</text>
<line x1="63.00" y1="380.00" x2="80.00" y2="380.00" stroke="#52b47c" stroke-width="1.5"/>
<circle cx="71.4" cy="380.00" r="2.25" fill="#fff" stroke="#52b47c" stroke-width="1.2"/>
<text x="82.20" y="383.20" font-size="8.7" fill="#111" text-anchor="start" font-family='"Liberation Sans",Arial,sans-serif' font-weight="bold">BN2</text>
<line x1="63.00" y1="391.60" x2="80.00" y2="391.60" stroke="#3990d4" stroke-width="1.5"/>
<circle cx="71.4" cy="391.60" r="2.25" fill="#fff" stroke="#3990d4" stroke-width="1.2"/>
<text x="82.20" y="394.80" font-size="8.7" fill="#111" text-anchor="start" font-family='"Liberation Sans",Arial,sans-serif' font-weight="bold">BN3</text>
<ellipse cx="162" cy="381" rx="21" ry="9" fill="none" stroke="#333" stroke-width="0.9"/>
<ellipse cx="165.1" cy="413.8" rx="20.7" ry="10.4" fill="none" stroke="#333" stroke-width="0.9"/>
<line x1="141.00" y1="377.20" x2="124.00" y2="377.20" stroke="#333" stroke-width="0.9"/>
<polygon points="121.5,377.2 125.5,375.6 125.5,378.8" fill="#333"/>
<line x1="180.40" y1="423.60" x2="196.50" y2="423.60" stroke="#333" stroke-width="0.9"/>
<polygon points="199.2,423.6 195.2,422 195.2,425.2" fill="#333"/>
<text x="223.6" y="434.4" font-size="10" fill="#222" font-family='"Liberation Sans",Arial,sans-serif' font-style="italic">V<tspan font-size="6" dy="2.2" font-style="normal">on</tspan></text>
<text x="223.20" y="447.60" font-size="9" fill="#e05a5e" text-anchor="start" font-family='"Liberation Sans",Arial,sans-serif' stroke="#e05a5e" stroke-width="0.30">4.3 V</text>
<text x="223.20" y="459.20" font-size="9" fill="#4aa876" text-anchor="start" font-family='"Liberation Sans",Arial,sans-serif' stroke="#4aa876" stroke-width="0.30">4.3 V</text>
<text x="223.20" y="470.80" font-size="9" fill="#3b8cc4" text-anchor="start" font-family='"Liberation Sans",Arial,sans-serif' stroke="#3b8cc4" stroke-width="0.30">4.1 V</text><text x="286.50" y="354.50" font-size="19.3" fill="#111" text-anchor="start" font-family='"Liberation Serif","Times New Roman",serif'>(d)</text>
<defs><radialGradient id="ph" cx="0.45" cy="0.48" r="0.7"><stop offset="0" stop-color="#2432ec"/><stop offset="0.6" stop-color="#1a1cd6"/><stop offset="1" stop-color="#1010b2"/></radialGradient><filter id="gl" x="-2" y="-2" width="5" height="5"><feGaussianBlur stdDeviation="2.2"/></filter><filter id="gl2" x="-1" y="-1" width="3" height="3"><feGaussianBlur stdDeviation="0.9"/></filter></defs>
<rect x="376" y="396.4" width="71.8" height="71.2" fill="url(#ph)"/>
<path d="M385 459.5V406H395M400 406H405M409 406H439V459.5H385" fill="none" stroke="#9fb0ff" stroke-opacity="0.55" stroke-width="0.55"/>
<rect x="378" y="426.5" width="68" height="3" fill="#4a5cff" opacity="0.35" filter="url(#gl)"/>
<rect x="396" y="425.5" width="26" height="5" fill="#4a5cff" opacity="0.5" filter="url(#gl)"/>
<rect x="405.7" y="418" width="4" height="20" fill="#4a5cff" opacity="0.45" filter="url(#gl)"/>
<rect x="402.5" y="422.8" width="10.5" height="10.5" fill="#8090ff" filter="url(#gl)"/>
<rect x="404.6" y="425" width="6.2" height="6.2" fill="#ffffff" filter="url(#gl2)"/>
<rect x="405.2" y="425.6" width="5" height="5" fill="#ffffff"/>
<text x="387.80" y="454.80" font-size="9.2" fill="#f4f4ff" text-anchor="start" font-family='"Liberation Sans",Arial,sans-serif' font-weight="bold">BN3</text>
<path d="M422.5 447.5h3l-1.6 7.2M427.2 446.8l-0.5 8.4M427.6 447.4c2.4 0.2 3.2 1.8 0.8 3.4c3 0.4 2.4 3 -1.2 3.8" fill="none" stroke="#9ab0ff" stroke-width="0.75"/>
<line x1="479.40" y1="351.20" x2="479.40" y2="481.60" stroke="#222" stroke-width="1.2" stroke-dasharray="1.3,1.7"/>
<polyline points="339.00,377.60 373.00,373.60 394.40,374.40 411.00,375.60 424.00,378.00 435.60,381.00 444.90,383.70 452.30,387.00 459.60,389.50 465.90,391.60 471.40,393.20 476.00,394.90 480.10,396.30 484.20,398.00 488.30,399.30 492.00,400.60 495.60,402.10 499.20,403.70 502.70,405.50 505.90,407.80 508.70,409.90 510.70,412.70 512.50,418.10" fill="none" stroke="#ec5a60" stroke-width="1.3"/>
<circle cx="339.00" cy="377.60" r="2.25" fill="#fff" stroke="#ec5a60" stroke-width="1.2"/>
<circle cx="373.00" cy="373.60" r="2.25" fill="#fff" stroke="#ec5a60" stroke-width="1.2"/>
<circle cx="394.40" cy="374.40" r="2.25" fill="#fff" stroke="#ec5a60" stroke-width="1.2"/>
<circle cx="411.00" cy="375.60" r="2.25" fill="#fff" stroke="#ec5a60" stroke-width="1.2"/>
<circle cx="424.00" cy="378.00" r="2.25" fill="#fff" stroke="#ec5a60" stroke-width="1.2"/>
<circle cx="435.60" cy="381.00" r="2.25" fill="#fff" stroke="#ec5a60" stroke-width="1.2"/>
<circle cx="444.90" cy="383.70" r="2.25" fill="#fff" stroke="#ec5a60" stroke-width="1.2"/>
<circle cx="452.30" cy="387.00" r="2.25" fill="#fff" stroke="#ec5a60" stroke-width="1.2"/>
<circle cx="459.60" cy="389.50" r="2.25" fill="#fff" stroke="#ec5a60" stroke-width="1.2"/>
<circle cx="465.90" cy="391.60" r="2.25" fill="#fff" stroke="#ec5a60" stroke-width="1.2"/>
<circle cx="471.40" cy="393.20" r="2.25" fill="#fff" stroke="#ec5a60" stroke-width="1.2"/>
<circle cx="476.00" cy="394.90" r="2.25" fill="#fff" stroke="#ec5a60" stroke-width="1.2"/>
<circle cx="480.10" cy="396.30" r="2.25" fill="#fff" stroke="#ec5a60" stroke-width="1.2"/>
<circle cx="484.20" cy="398.00" r="2.25" fill="#fff" stroke="#ec5a60" stroke-width="1.2"/>
<circle cx="488.30" cy="399.30" r="2.25" fill="#fff" stroke="#ec5a60" stroke-width="1.2"/>
<circle cx="492.00" cy="400.60" r="2.25" fill="#fff" stroke="#ec5a60" stroke-width="1.2"/>
<circle cx="495.60" cy="402.10" r="2.25" fill="#fff" stroke="#ec5a60" stroke-width="1.2"/>
<circle cx="499.20" cy="403.70" r="2.25" fill="#fff" stroke="#ec5a60" stroke-width="1.2"/>
<circle cx="502.70" cy="405.50" r="2.25" fill="#fff" stroke="#ec5a60" stroke-width="1.2"/>
<circle cx="505.90" cy="407.80" r="2.25" fill="#fff" stroke="#ec5a60" stroke-width="1.2"/>
<circle cx="508.70" cy="409.90" r="2.25" fill="#fff" stroke="#ec5a60" stroke-width="1.2"/>
<circle cx="510.70" cy="412.70" r="2.25" fill="#fff" stroke="#ec5a60" stroke-width="1.2"/>
<circle cx="512.50" cy="418.10" r="2.25" fill="#fff" stroke="#ec5a60" stroke-width="1.2"/>
<polyline points="339.00,381.00 373.60,372.60 397.00,372.00 414.40,373.00 429.60,374.40 440.80,376.40 451.80,378.80 460.90,381.30 468.10,383.20 474.40,384.90 479.60,386.50 483.90,388.10 487.90,389.50 492.00,390.60 496.00,391.90 499.40,393.20 503.00,394.70 506.30,396.00 509.50,397.60 512.50,399.30 515.30,401.20 518.10,403.90 520.70,407.80" fill="none" stroke="#52b47c" stroke-width="1.3"/>
<circle cx="339.00" cy="381.00" r="2.25" fill="#fff" stroke="#52b47c" stroke-width="1.2"/>
<circle cx="373.60" cy="372.60" r="2.25" fill="#fff" stroke="#52b47c" stroke-width="1.2"/>
<circle cx="397.00" cy="372.00" r="2.25" fill="#fff" stroke="#52b47c" stroke-width="1.2"/>
<circle cx="414.40" cy="373.00" r="2.25" fill="#fff" stroke="#52b47c" stroke-width="1.2"/>
<circle cx="429.60" cy="374.40" r="2.25" fill="#fff" stroke="#52b47c" stroke-width="1.2"/>
<circle cx="440.80" cy="376.40" r="2.25" fill="#fff" stroke="#52b47c" stroke-width="1.2"/>
<circle cx="451.80" cy="378.80" r="2.25" fill="#fff" stroke="#52b47c" stroke-width="1.2"/>
<circle cx="460.90" cy="381.30" r="2.25" fill="#fff" stroke="#52b47c" stroke-width="1.2"/>
<circle cx="468.10" cy="383.20" r="2.25" fill="#fff" stroke="#52b47c" stroke-width="1.2"/>
<circle cx="474.40" cy="384.90" r="2.25" fill="#fff" stroke="#52b47c" stroke-width="1.2"/>
<circle cx="479.60" cy="386.50" r="2.25" fill="#fff" stroke="#52b47c" stroke-width="1.2"/>
<circle cx="483.90" cy="388.10" r="2.25" fill="#fff" stroke="#52b47c" stroke-width="1.2"/>
<circle cx="487.90" cy="389.50" r="2.25" fill="#fff" stroke="#52b47c" stroke-width="1.2"/>
<circle cx="492.00" cy="390.60" r="2.25" fill="#fff" stroke="#52b47c" stroke-width="1.2"/>
<circle cx="496.00" cy="391.90" r="2.25" fill="#fff" stroke="#52b47c" stroke-width="1.2"/>
<circle cx="499.40" cy="393.20" r="2.25" fill="#fff" stroke="#52b47c" stroke-width="1.2"/>
<circle cx="503.00" cy="394.70" r="2.25" fill="#fff" stroke="#52b47c" stroke-width="1.2"/>
<circle cx="506.30" cy="396.00" r="2.25" fill="#fff" stroke="#52b47c" stroke-width="1.2"/>
<circle cx="509.50" cy="397.60" r="2.25" fill="#fff" stroke="#52b47c" stroke-width="1.2"/>
<circle cx="512.50" cy="399.30" r="2.25" fill="#fff" stroke="#52b47c" stroke-width="1.2"/>
<circle cx="515.30" cy="401.20" r="2.25" fill="#fff" stroke="#52b47c" stroke-width="1.2"/>
<circle cx="518.10" cy="403.90" r="2.25" fill="#fff" stroke="#52b47c" stroke-width="1.2"/>
<circle cx="520.70" cy="407.80" r="2.25" fill="#fff" stroke="#52b47c" stroke-width="1.2"/>
<polyline points="348.60,374.40 384.50,369.20 409.00,369.40 428.00,370.40 442.90,371.50 455.50,372.30 466.20,374.20 475.70,375.90 482.90,377.50 489.90,379.30 495.60,380.90 500.20,382.60 504.30,384.50 507.90,386.20 511.50,387.80 514.90,389.80 518.10,391.60 520.50,393.90 522.60,397.30 524.80,402.20" fill="none" stroke="#3990d4" stroke-width="1.3"/>
<circle cx="348.60" cy="374.40" r="2.25" fill="#fff" stroke="#3990d4" stroke-width="1.2"/>
<circle cx="384.50" cy="369.20" r="2.25" fill="#fff" stroke="#3990d4" stroke-width="1.2"/>
<circle cx="409.00" cy="369.40" r="2.25" fill="#fff" stroke="#3990d4" stroke-width="1.2"/>
<circle cx="428.00" cy="370.40" r="2.25" fill="#fff" stroke="#3990d4" stroke-width="1.2"/>
<circle cx="442.90" cy="371.50" r="2.25" fill="#fff" stroke="#3990d4" stroke-width="1.2"/>
<circle cx="455.50" cy="372.30" r="2.25" fill="#fff" stroke="#3990d4" stroke-width="1.2"/>
<circle cx="466.20" cy="374.20" r="2.25" fill="#fff" stroke="#3990d4" stroke-width="1.2"/>
<circle cx="475.70" cy="375.90" r="2.25" fill="#fff" stroke="#3990d4" stroke-width="1.2"/>
<circle cx="482.90" cy="377.50" r="2.25" fill="#fff" stroke="#3990d4" stroke-width="1.2"/>
<circle cx="489.90" cy="379.30" r="2.25" fill="#fff" stroke="#3990d4" stroke-width="1.2"/>
<circle cx="495.60" cy="380.90" r="2.25" fill="#fff" stroke="#3990d4" stroke-width="1.2"/>
<circle cx="500.20" cy="382.60" r="2.25" fill="#fff" stroke="#3990d4" stroke-width="1.2"/>
<circle cx="504.30" cy="384.50" r="2.25" fill="#fff" stroke="#3990d4" stroke-width="1.2"/>
<circle cx="507.90" cy="386.20" r="2.25" fill="#fff" stroke="#3990d4" stroke-width="1.2"/>
<circle cx="511.50" cy="387.80" r="2.25" fill="#fff" stroke="#3990d4" stroke-width="1.2"/>
<circle cx="514.90" cy="389.80" r="2.25" fill="#fff" stroke="#3990d4" stroke-width="1.2"/>
<circle cx="518.10" cy="391.60" r="2.25" fill="#fff" stroke="#3990d4" stroke-width="1.2"/>
<circle cx="520.50" cy="393.90" r="2.25" fill="#fff" stroke="#3990d4" stroke-width="1.2"/>
<circle cx="522.60" cy="397.30" r="2.25" fill="#fff" stroke="#3990d4" stroke-width="1.2"/>
<circle cx="524.80" cy="402.20" r="2.25" fill="#fff" stroke="#3990d4" stroke-width="1.2"/>
<rect x="335.2" y="350.8" width="206.2" height="131.2" fill="none" stroke="#2a2a2a" stroke-width="1.5"/>
<line x1="332.20" y1="482.00" x2="335.20" y2="482.00" stroke="#222" stroke-width="1"/>
<line x1="333.40" y1="468.84" x2="335.20" y2="468.84" stroke="#222" stroke-width="0.8"/>
<line x1="333.40" y1="461.15" x2="335.20" y2="461.15" stroke="#222" stroke-width="0.8"/>
<line x1="333.40" y1="455.69" x2="335.20" y2="455.69" stroke="#222" stroke-width="0.8"/>
<line x1="333.40" y1="451.46" x2="335.20" y2="451.46" stroke="#222" stroke-width="0.8"/>
<line x1="333.40" y1="447.99" x2="335.20" y2="447.99" stroke="#222" stroke-width="0.8"/>
<line x1="333.40" y1="445.07" x2="335.20" y2="445.07" stroke="#222" stroke-width="0.8"/>
<line x1="333.40" y1="442.53" x2="335.20" y2="442.53" stroke="#222" stroke-width="0.8"/>
<line x1="333.40" y1="440.30" x2="335.20" y2="440.30" stroke="#222" stroke-width="0.8"/>
<line x1="332.20" y1="438.30" x2="335.20" y2="438.30" stroke="#222" stroke-width="1"/>
<line x1="333.40" y1="425.14" x2="335.20" y2="425.14" stroke="#222" stroke-width="0.8"/>
<line x1="333.40" y1="417.45" x2="335.20" y2="417.45" stroke="#222" stroke-width="0.8"/>
<line x1="333.40" y1="411.99" x2="335.20" y2="411.99" stroke="#222" stroke-width="0.8"/>
<line x1="333.40" y1="407.76" x2="335.20" y2="407.76" stroke="#222" stroke-width="0.8"/>
<line x1="333.40" y1="404.29" x2="335.20" y2="404.29" stroke="#222" stroke-width="0.8"/>
<line x1="333.40" y1="401.37" x2="335.20" y2="401.37" stroke="#222" stroke-width="0.8"/>
<line x1="333.40" y1="398.83" x2="335.20" y2="398.83" stroke="#222" stroke-width="0.8"/>
<line x1="333.40" y1="396.60" x2="335.20" y2="396.60" stroke="#222" stroke-width="0.8"/>
<line x1="332.20" y1="394.60" x2="335.20" y2="394.60" stroke="#222" stroke-width="1"/>
<line x1="333.40" y1="381.44" x2="335.20" y2="381.44" stroke="#222" stroke-width="0.8"/>
<line x1="333.40" y1="373.75" x2="335.20" y2="373.75" stroke="#222" stroke-width="0.8"/>
<line x1="333.40" y1="368.29" x2="335.20" y2="368.29" stroke="#222" stroke-width="0.8"/>
<line x1="333.40" y1="364.06" x2="335.20" y2="364.06" stroke="#222" stroke-width="0.8"/>
<line x1="333.40" y1="360.59" x2="335.20" y2="360.59" stroke="#222" stroke-width="0.8"/>
<line x1="333.40" y1="357.67" x2="335.20" y2="357.67" stroke="#222" stroke-width="0.8"/>
<line x1="333.40" y1="355.13" x2="335.20" y2="355.13" stroke="#222" stroke-width="0.8"/>
<line x1="333.40" y1="352.90" x2="335.20" y2="352.90" stroke="#222" stroke-width="0.8"/>
<line x1="332.20" y1="350.90" x2="335.20" y2="350.90" stroke="#222" stroke-width="1"/>
<text x="325.50" y="354.00" font-size="8.6" fill="#222" text-anchor="middle" font-family='"Liberation Sans",Arial,sans-serif' stroke="#222" stroke-width="0.29">100</text>
<text x="327.80" y="397.70" font-size="8.6" fill="#222" text-anchor="middle" font-family='"Liberation Sans",Arial,sans-serif' stroke="#222" stroke-width="0.29">10</text>
<text x="330.20" y="441.40" font-size="8.6" fill="#222" text-anchor="middle" font-family='"Liberation Sans",Arial,sans-serif' stroke="#222" stroke-width="0.29">1</text>
<text x="325.50" y="485.10" font-size="8.6" fill="#222" text-anchor="middle" font-family='"Liberation Sans",Arial,sans-serif' stroke="#222" stroke-width="0.29">0.1</text>
<line x1="335.60" y1="482.00" x2="335.60" y2="485.00" stroke="#222" stroke-width="1"/>
<text x="335.60" y="494.90" font-size="9.2" fill="#222" text-anchor="middle" font-family='"Liberation Sans",Arial,sans-serif' stroke="#222" stroke-width="0.3">10<tspan font-size="5.336" dy="-4.14">-1</tspan></text>
<line x1="346.42" y1="482.00" x2="346.42" y2="483.80" stroke="#222" stroke-width="0.8"/>
<line x1="352.75" y1="482.00" x2="352.75" y2="483.80" stroke="#222" stroke-width="0.8"/>
<line x1="357.24" y1="482.00" x2="357.24" y2="483.80" stroke="#222" stroke-width="0.8"/>
<line x1="360.73" y1="482.00" x2="360.73" y2="483.80" stroke="#222" stroke-width="0.8"/>
<line x1="363.57" y1="482.00" x2="363.57" y2="483.80" stroke="#222" stroke-width="0.8"/>
<line x1="365.98" y1="482.00" x2="365.98" y2="483.80" stroke="#222" stroke-width="0.8"/>
<line x1="368.07" y1="482.00" x2="368.07" y2="483.80" stroke="#222" stroke-width="0.8"/>
<line x1="369.91" y1="482.00" x2="369.91" y2="483.80" stroke="#222" stroke-width="0.8"/>
<line x1="371.55" y1="482.00" x2="371.55" y2="485.00" stroke="#222" stroke-width="1"/>
<text x="371.55" y="494.90" font-size="9.2" fill="#222" text-anchor="middle" font-family='"Liberation Sans",Arial,sans-serif' stroke="#222" stroke-width="0.3">10<tspan font-size="5.336" dy="-4.14">0</tspan></text>
<line x1="382.37" y1="482.00" x2="382.37" y2="483.80" stroke="#222" stroke-width="0.8"/>
<line x1="388.70" y1="482.00" x2="388.70" y2="483.80" stroke="#222" stroke-width="0.8"/>
<line x1="393.19" y1="482.00" x2="393.19" y2="483.80" stroke="#222" stroke-width="0.8"/>
<line x1="396.68" y1="482.00" x2="396.68" y2="483.80" stroke="#222" stroke-width="0.8"/>
<line x1="399.52" y1="482.00" x2="399.52" y2="483.80" stroke="#222" stroke-width="0.8"/>
<line x1="401.93" y1="482.00" x2="401.93" y2="483.80" stroke="#222" stroke-width="0.8"/>
<line x1="404.02" y1="482.00" x2="404.02" y2="483.80" stroke="#222" stroke-width="0.8"/>
<line x1="405.86" y1="482.00" x2="405.86" y2="483.80" stroke="#222" stroke-width="0.8"/>
<line x1="407.50" y1="482.00" x2="407.50" y2="485.00" stroke="#222" stroke-width="1"/>
<text x="407.50" y="494.90" font-size="9.2" fill="#222" text-anchor="middle" font-family='"Liberation Sans",Arial,sans-serif' stroke="#222" stroke-width="0.3">10<tspan font-size="5.336" dy="-4.14">1</tspan></text>
<line x1="418.32" y1="482.00" x2="418.32" y2="483.80" stroke="#222" stroke-width="0.8"/>
<line x1="424.65" y1="482.00" x2="424.65" y2="483.80" stroke="#222" stroke-width="0.8"/>
<line x1="429.14" y1="482.00" x2="429.14" y2="483.80" stroke="#222" stroke-width="0.8"/>
<line x1="432.63" y1="482.00" x2="432.63" y2="483.80" stroke="#222" stroke-width="0.8"/>
<line x1="435.47" y1="482.00" x2="435.47" y2="483.80" stroke="#222" stroke-width="0.8"/>
<line x1="437.88" y1="482.00" x2="437.88" y2="483.80" stroke="#222" stroke-width="0.8"/>
<line x1="439.97" y1="482.00" x2="439.97" y2="483.80" stroke="#222" stroke-width="0.8"/>
<line x1="441.81" y1="482.00" x2="441.81" y2="483.80" stroke="#222" stroke-width="0.8"/>
<line x1="443.45" y1="482.00" x2="443.45" y2="485.00" stroke="#222" stroke-width="1"/>
<text x="443.45" y="494.90" font-size="9.2" fill="#222" text-anchor="middle" font-family='"Liberation Sans",Arial,sans-serif' stroke="#222" stroke-width="0.3">10<tspan font-size="5.336" dy="-4.14">2</tspan></text>
<line x1="454.27" y1="482.00" x2="454.27" y2="483.80" stroke="#222" stroke-width="0.8"/>
<line x1="460.60" y1="482.00" x2="460.60" y2="483.80" stroke="#222" stroke-width="0.8"/>
<line x1="465.09" y1="482.00" x2="465.09" y2="483.80" stroke="#222" stroke-width="0.8"/>
<line x1="468.58" y1="482.00" x2="468.58" y2="483.80" stroke="#222" stroke-width="0.8"/>
<line x1="471.42" y1="482.00" x2="471.42" y2="483.80" stroke="#222" stroke-width="0.8"/>
<line x1="473.83" y1="482.00" x2="473.83" y2="483.80" stroke="#222" stroke-width="0.8"/>
<line x1="475.92" y1="482.00" x2="475.92" y2="483.80" stroke="#222" stroke-width="0.8"/>
<line x1="477.76" y1="482.00" x2="477.76" y2="483.80" stroke="#222" stroke-width="0.8"/>
<line x1="479.40" y1="482.00" x2="479.40" y2="485.00" stroke="#222" stroke-width="1"/>
<text x="479.40" y="494.90" font-size="9.2" fill="#222" text-anchor="middle" font-family='"Liberation Sans",Arial,sans-serif' stroke="#222" stroke-width="0.3">10<tspan font-size="5.336" dy="-4.14">3</tspan></text>
<line x1="490.22" y1="482.00" x2="490.22" y2="483.80" stroke="#222" stroke-width="0.8"/>
<line x1="496.55" y1="482.00" x2="496.55" y2="483.80" stroke="#222" stroke-width="0.8"/>
<line x1="501.04" y1="482.00" x2="501.04" y2="483.80" stroke="#222" stroke-width="0.8"/>
<line x1="504.53" y1="482.00" x2="504.53" y2="483.80" stroke="#222" stroke-width="0.8"/>
<line x1="507.37" y1="482.00" x2="507.37" y2="483.80" stroke="#222" stroke-width="0.8"/>
<line x1="509.78" y1="482.00" x2="509.78" y2="483.80" stroke="#222" stroke-width="0.8"/>
<line x1="511.87" y1="482.00" x2="511.87" y2="483.80" stroke="#222" stroke-width="0.8"/>
<line x1="513.71" y1="482.00" x2="513.71" y2="483.80" stroke="#222" stroke-width="0.8"/>
<line x1="515.35" y1="482.00" x2="515.35" y2="485.00" stroke="#222" stroke-width="1"/>
<text x="515.35" y="494.90" font-size="9.2" fill="#222" text-anchor="middle" font-family='"Liberation Sans",Arial,sans-serif' stroke="#222" stroke-width="0.3">10<tspan font-size="5.336" dy="-4.14">4</tspan></text>
<line x1="526.17" y1="482.00" x2="526.17" y2="483.80" stroke="#222" stroke-width="0.8"/>
<line x1="532.50" y1="482.00" x2="532.50" y2="483.80" stroke="#222" stroke-width="0.8"/>
<line x1="536.99" y1="482.00" x2="536.99" y2="483.80" stroke="#222" stroke-width="0.8"/>
<line x1="540.48" y1="482.00" x2="540.48" y2="483.80" stroke="#222" stroke-width="0.8"/>
<text x="438.4" y="508.4" font-size="9.8" fill="#222" stroke="#222" stroke-width="0.3" text-anchor="middle" font-family='"Liberation Sans",Arial,sans-serif'>Luminance (cd m<tspan font-size="6" dy="-3.6">-2</tspan><tspan dy="3.6">)</tspan></text>
<text x="312.53" y="416.00" font-size="9.8" fill="#222" text-anchor="middle" font-family='"Liberation Sans",Arial,sans-serif' transform="rotate(-90 312.53 416.00)" stroke="#222" stroke-width="0.30">EQE (%)</text>
<text x="344.60" y="366.40" font-size="9.4" fill="#3b8cc4" text-anchor="start" font-family='"Liberation Sans",Arial,sans-serif' stroke="#3b8cc4" stroke-width="0.30">37.6</text>
<text x="366.00" y="366.40" font-size="9.4" fill="#4aa876" text-anchor="start" font-family='"Liberation Sans",Arial,sans-serif' stroke="#4aa876" stroke-width="0.30">33.2</text>
<text x="344.60" y="393.00" font-size="9.4" fill="#e05a5e" text-anchor="start" font-family='"Liberation Sans",Arial,sans-serif' stroke="#e05a5e" stroke-width="0.30">31.2</text>
<text x="483.60" y="366.40" font-size="9.4" fill="#3b8cc4" text-anchor="start" font-family='"Liberation Sans",Arial,sans-serif' stroke="#3b8cc4" stroke-width="0.30">26.2</text>
<text x="505.60" y="366.40" font-size="9.4" fill="#4aa876" text-anchor="start" font-family='"Liberation Sans",Arial,sans-serif' stroke="#4aa876" stroke-width="0.30">15.5</text>
<text x="484.00" y="421.40" font-size="9.4" fill="#e05a5e" text-anchor="start" font-family='"Liberation Sans",Arial,sans-serif' stroke="#e05a5e" stroke-width="0.30">9.3</text>
<line x1="484.40" y1="445.00" x2="501.00" y2="445.00" stroke="#ec5a60" stroke-width="1.5"/>
<circle cx="492.6" cy="445.00" r="2.25" fill="#fff" stroke="#ec5a60" stroke-width="1.2"/>
<text x="504.00" y="448.20" font-size="8.7" fill="#111" text-anchor="start" font-family='"Liberation Sans",Arial,sans-serif' font-weight="bold">BN1</text>
<line x1="484.40" y1="456.50" x2="501.00" y2="456.50" stroke="#52b47c" stroke-width="1.5"/>
<circle cx="492.6" cy="456.50" r="2.25" fill="#fff" stroke="#52b47c" stroke-width="1.2"/>
<text x="504.00" y="459.70" font-size="8.7" fill="#111" text-anchor="start" font-family='"Liberation Sans",Arial,sans-serif' font-weight="bold">BN2</text>
<line x1="484.40" y1="468.00" x2="501.00" y2="468.00" stroke="#3990d4" stroke-width="1.5"/>
<circle cx="492.6" cy="468.00" r="2.25" fill="#fff" stroke="#3990d4" stroke-width="1.2"/>
<text x="504.00" y="471.20" font-size="8.7" fill="#111" text-anchor="start" font-family='"Liberation Sans",Arial,sans-serif' font-weight="bold">BN3</text>
</svg></body></html>
